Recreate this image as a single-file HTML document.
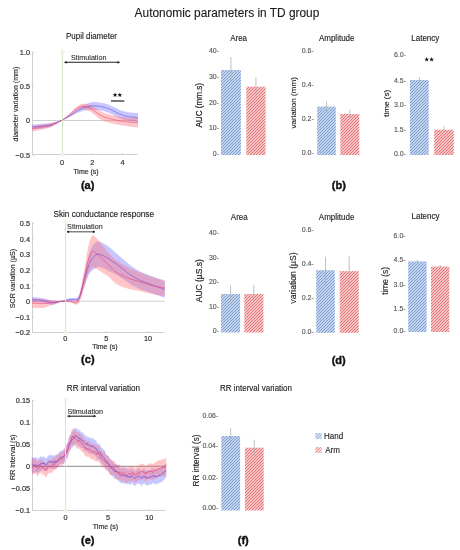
<!DOCTYPE html>
<html><head><meta charset="utf-8"><style>html,body{margin:0;padding:0;background:#fff;}body{width:460px;height:550px;position:relative;overflow:hidden;}</style></head><body>
<svg width="460" height="550" viewBox="0 0 460 550" style="position:absolute;left:0;top:0;will-change:transform;font-family:'Liberation Sans', sans-serif">
<defs>
<pattern id="hb" patternUnits="userSpaceOnUse" width="3" height="3">
<rect width="3" height="3" fill="#c3d4ee"/><rect x="2" y="0" width="1" height="1" fill="#7d9fd0"/><rect x="1" y="1" width="1" height="1" fill="#7d9fd0"/><rect x="0" y="2" width="1" height="1" fill="#7d9fd0"/></pattern>
<pattern id="hr" patternUnits="userSpaceOnUse" width="3" height="3">
<rect width="3" height="3" fill="#f6c4c4"/><rect x="2" y="0" width="1" height="1" fill="#e67476"/><rect x="1" y="1" width="1" height="1" fill="#e67476"/><rect x="0" y="2" width="1" height="1" fill="#e67476"/></pattern>
</defs>
<rect width="460" height="550" fill="#fff"/>
<text x="0" y="0" font-size="11.9" text-anchor="start" fill="#1a1a1a" font-weight="normal" stroke="#1a1a1a" stroke-width="0.12" transform="translate(134.60 17.30) scale(1.0 1.03)">Autonomic parameters in TD group</text>
<text x="0" y="0" font-size="8" text-anchor="middle" fill="#222" font-weight="normal" stroke="#222" stroke-width="0.12" transform="translate(91.50 38.67) scale(1.0 1.08)">Pupil diameter</text>
<line x1="32.5" y1="52" x2="32.5" y2="154.5" stroke="#cfcfcf" stroke-width="1"/>
<line x1="32.5" y1="154.5" x2="137.4" y2="154.5" stroke="#cfcfcf" stroke-width="1"/>
<text x="0" y="0" font-size="7.3" text-anchor="end" fill="#333" font-weight="normal" stroke="#333" stroke-width="0.2" transform="translate(30.00 54.71) scale(1.0 1.08)">1.0</text>
<line x1="32.5" y1="52" x2="34.0" y2="52" stroke="#cfcfcf" stroke-width="1"/>
<text x="0" y="0" font-size="7.3" text-anchor="end" fill="#333" font-weight="normal" stroke="#333" stroke-width="0.2" transform="translate(30.00 89.21) scale(1.0 1.08)">0.5</text>
<line x1="32.5" y1="86.5" x2="34.0" y2="86.5" stroke="#cfcfcf" stroke-width="1"/>
<text x="0" y="0" font-size="7.3" text-anchor="end" fill="#333" font-weight="normal" stroke="#333" stroke-width="0.2" transform="translate(30.00 123.21) scale(1.0 1.08)">0</text>
<line x1="32.5" y1="120.5" x2="34.0" y2="120.5" stroke="#cfcfcf" stroke-width="1"/>
<text x="0" y="0" font-size="7.3" text-anchor="end" fill="#333" font-weight="normal" stroke="#333" stroke-width="0.2" transform="translate(30.00 158.01) scale(1.0 1.08)">−0.5</text>
<line x1="32.5" y1="155.3" x2="34.0" y2="155.3" stroke="#cfcfcf" stroke-width="1"/>
<text x="0" y="0" font-size="7.3" text-anchor="middle" fill="#333" font-weight="normal" stroke="#333" stroke-width="0.2" transform="translate(62.00 165.31) scale(1.0 1.08)">0</text>
<line x1="62" y1="154.5" x2="62" y2="153.0" stroke="#cfcfcf" stroke-width="1"/>
<text x="0" y="0" font-size="7.3" text-anchor="middle" fill="#333" font-weight="normal" stroke="#333" stroke-width="0.2" transform="translate(92.30 165.31) scale(1.0 1.08)">2</text>
<line x1="92.3" y1="154.5" x2="92.3" y2="153.0" stroke="#cfcfcf" stroke-width="1"/>
<text x="0" y="0" font-size="7.3" text-anchor="middle" fill="#333" font-weight="normal" stroke="#333" stroke-width="0.2" transform="translate(122.60 165.31) scale(1.0 1.08)">4</text>
<line x1="122.6" y1="154.5" x2="122.6" y2="153.0" stroke="#cfcfcf" stroke-width="1"/>
<line x1="32.5" y1="120.5" x2="137.4" y2="120.5" stroke="#cfcfcf" stroke-width="1"/>
<polygon points="32.30,124.64 32.56,124.62 32.83,124.60 33.09,124.58 33.36,124.55 33.62,124.53 33.89,124.51 34.15,124.49 34.42,124.47 34.68,124.45 34.95,124.42 35.21,124.40 35.48,124.38 35.74,124.36 36.01,124.34 36.27,124.31 36.54,124.29 36.80,124.27 37.07,124.25 37.33,124.23 37.60,124.20 37.86,124.18 38.13,124.16 38.39,124.14 38.66,124.11 38.92,124.09 39.19,124.07 39.45,124.05 39.72,124.02 39.98,124.00 40.25,123.98 40.51,123.96 40.78,123.94 41.04,123.92 41.31,123.90 41.57,123.88 41.84,123.86 42.10,123.84 42.37,123.82 42.63,123.80 42.90,123.78 43.16,123.77 43.43,123.75 43.69,123.73 43.96,123.71 44.22,123.69 44.49,123.67 44.75,123.65 45.02,123.63 45.28,123.61 45.55,123.59 45.81,123.57 46.08,123.55 46.34,123.52 46.61,123.50 46.87,123.47 47.14,123.45 47.40,123.42 47.66,123.40 47.93,123.37 48.19,123.34 48.46,123.31 48.72,123.27 48.99,123.24 49.25,123.21 49.52,123.17 49.78,123.13 50.05,123.09 50.31,123.05 50.58,123.00 50.84,122.94 51.11,122.89 51.37,122.83 51.64,122.77 51.90,122.72 52.17,122.66 52.43,122.60 52.70,122.54 52.96,122.47 53.23,122.41 53.49,122.35 53.76,122.29 54.02,122.23 54.29,122.17 54.55,122.11 54.82,122.05 55.08,122.00 55.35,121.94 55.61,121.89 55.88,121.83 56.14,121.78 56.41,121.73 56.67,121.67 56.94,121.62 57.20,121.56 57.47,121.50 57.73,121.43 58.00,121.36 58.26,121.29 58.53,121.22 58.79,121.14 59.06,121.05 59.32,120.97 59.59,120.87 59.85,120.78 60.12,120.68 60.38,120.57 60.65,120.46 60.91,120.34 61.18,120.22 61.44,120.09 61.71,119.95 61.97,119.82 62.24,119.68 62.50,119.53 62.76,119.39 63.03,119.24 63.29,119.09 63.56,118.93 63.82,118.78 64.09,118.62 64.35,118.46 64.62,118.30 64.88,118.13 65.15,117.96 65.41,117.79 65.68,117.62 65.94,117.45 66.21,117.27 66.47,117.10 66.74,116.92 67.00,116.74 67.27,116.56 67.53,116.37 67.80,116.19 68.06,116.00 68.33,115.82 68.59,115.63 68.86,115.44 69.12,115.25 69.39,115.06 69.65,114.87 69.92,114.67 70.18,114.48 70.45,114.28 70.71,114.08 70.98,113.88 71.24,113.68 71.51,113.47 71.77,113.26 72.04,113.04 72.30,112.83 72.57,112.62 72.83,112.40 73.10,112.18 73.36,111.97 73.63,111.75 73.89,111.54 74.16,111.32 74.42,111.11 74.69,110.90 74.95,110.69 75.22,110.48 75.48,110.28 75.75,110.08 76.01,109.88 76.28,109.68 76.54,109.49 76.81,109.30 77.07,109.12 77.34,108.94 77.60,108.77 77.86,108.60 78.13,108.43 78.39,108.26 78.66,108.08 78.92,107.91 79.19,107.73 79.45,107.56 79.72,107.39 79.98,107.21 80.25,107.04 80.51,106.87 80.78,106.70 81.04,106.53 81.31,106.37 81.57,106.20 81.84,106.04 82.10,105.88 82.37,105.73 82.63,105.57 82.90,105.42 83.16,105.27 83.43,105.13 83.69,104.99 83.96,104.86 84.22,104.73 84.49,104.60 84.75,104.48 85.02,104.36 85.28,104.25 85.55,104.14 85.81,104.03 86.08,103.92 86.34,103.81 86.61,103.70 86.87,103.59 87.14,103.49 87.40,103.38 87.67,103.28 87.93,103.18 88.20,103.08 88.46,102.98 88.73,102.89 88.99,102.80 89.26,102.72 89.52,102.64 89.79,102.56 90.05,102.49 90.32,102.42 90.58,102.36 90.85,102.30 91.11,102.25 91.38,102.20 91.64,102.17 91.91,102.13 92.17,102.11 92.44,102.09 92.70,102.08 92.96,102.07 93.23,102.07 93.49,102.06 93.76,102.07 94.02,102.07 94.29,102.07 94.55,102.08 94.82,102.09 95.08,102.10 95.35,102.11 95.61,102.12 95.88,102.14 96.14,102.15 96.41,102.17 96.67,102.19 96.94,102.21 97.20,102.23 97.47,102.25 97.73,102.28 98.00,102.30 98.26,102.33 98.53,102.35 98.79,102.38 99.06,102.41 99.32,102.43 99.59,102.46 99.85,102.49 100.12,102.52 100.38,102.55 100.65,102.58 100.91,102.62 101.18,102.65 101.44,102.70 101.71,102.74 101.97,102.79 102.24,102.84 102.50,102.89 102.77,102.95 103.03,103.01 103.30,103.07 103.56,103.14 103.83,103.20 104.09,103.27 104.36,103.34 104.62,103.41 104.89,103.48 105.15,103.56 105.42,103.63 105.68,103.71 105.95,103.79 106.21,103.87 106.48,103.95 106.74,104.03 107.01,104.11 107.27,104.20 107.54,104.28 107.80,104.37 108.06,104.45 108.33,104.54 108.59,104.64 108.86,104.73 109.12,104.84 109.39,104.94 109.65,105.05 109.92,105.16 110.18,105.27 110.45,105.39 110.71,105.51 110.98,105.63 111.24,105.75 111.51,105.88 111.77,106.00 112.04,106.13 112.30,106.26 112.57,106.38 112.83,106.51 113.10,106.64 113.36,106.77 113.63,106.90 113.89,107.03 114.16,107.16 114.42,107.29 114.69,107.42 114.95,107.55 115.22,107.67 115.48,107.80 115.75,107.93 116.01,108.06 116.28,108.20 116.54,108.33 116.81,108.47 117.07,108.61 117.34,108.75 117.60,108.89 117.87,109.03 118.13,109.17 118.40,109.30 118.66,109.43 118.93,109.56 119.19,109.68 119.46,109.79 119.72,109.90 119.99,110.00 120.25,110.10 120.52,110.20 120.78,110.29 121.05,110.39 121.31,110.48 121.58,110.57 121.84,110.66 122.11,110.75 122.37,110.84 122.64,110.92 122.90,111.00 123.16,111.08 123.43,111.16 123.69,111.24 123.96,111.31 124.22,111.38 124.49,111.45 124.75,111.51 125.02,111.57 125.28,111.63 125.55,111.69 125.81,111.74 126.08,111.79 126.34,111.84 126.61,111.89 126.87,111.93 127.14,111.98 127.40,112.02 127.67,112.06 127.93,112.10 128.20,112.14 128.46,112.18 128.73,112.22 128.99,112.25 129.26,112.29 129.52,112.32 129.79,112.35 130.05,112.39 130.32,112.42 130.58,112.45 130.85,112.48 131.11,112.51 131.38,112.54 131.64,112.57 131.91,112.60 132.17,112.63 132.44,112.66 132.70,112.69 132.97,112.72 133.23,112.75 133.50,112.78 133.76,112.80 134.03,112.83 134.29,112.86 134.56,112.89 134.82,112.91 135.09,112.94 135.35,112.96 135.62,112.99 135.88,113.01 136.15,113.03 136.41,113.06 136.68,113.08 136.94,113.10 137.21,113.12 137.47,113.15 137.74,113.17 138.00,113.19 138.00,121.88 137.74,121.86 137.47,121.83 137.21,121.81 136.94,121.78 136.68,121.76 136.41,121.73 136.15,121.71 135.88,121.68 135.62,121.65 135.35,121.62 135.09,121.59 134.82,121.56 134.56,121.53 134.29,121.50 134.03,121.47 133.76,121.44 133.50,121.41 133.23,121.38 132.97,121.34 132.70,121.31 132.44,121.28 132.17,121.24 131.91,121.21 131.64,121.18 131.38,121.14 131.11,121.11 130.85,121.07 130.58,121.04 130.32,121.00 130.05,120.96 129.79,120.93 129.52,120.89 129.26,120.85 128.99,120.81 128.73,120.77 128.46,120.73 128.20,120.69 127.93,120.64 127.67,120.60 127.40,120.55 127.14,120.50 126.87,120.46 126.61,120.41 126.34,120.35 126.08,120.30 125.81,120.24 125.55,120.19 125.28,120.12 125.02,120.06 124.75,119.99 124.49,119.92 124.22,119.85 123.96,119.77 123.69,119.69 123.43,119.61 123.16,119.53 122.90,119.45 122.64,119.36 122.37,119.27 122.11,119.18 121.84,119.08 121.58,118.99 121.31,118.89 121.05,118.79 120.78,118.69 120.52,118.59 120.25,118.49 119.99,118.38 119.72,118.28 119.46,118.16 119.19,118.04 118.93,117.92 118.66,117.79 118.40,117.65 118.13,117.51 117.87,117.37 117.60,117.22 117.34,117.08 117.07,116.93 116.81,116.79 116.54,116.64 116.28,116.50 116.01,116.35 115.75,116.22 115.48,116.08 115.22,115.95 114.95,115.82 114.69,115.69 114.42,115.55 114.16,115.42 113.89,115.28 113.63,115.15 113.36,115.01 113.10,114.87 112.83,114.74 112.57,114.60 112.30,114.47 112.04,114.34 111.77,114.20 111.51,114.07 111.24,113.94 110.98,113.82 110.71,113.69 110.45,113.57 110.18,113.44 109.92,113.32 109.65,113.21 109.39,113.09 109.12,112.98 108.86,112.88 108.59,112.77 108.33,112.67 108.06,112.58 107.80,112.48 107.54,112.40 107.27,112.31 107.01,112.22 106.74,112.13 106.48,112.04 106.21,111.95 105.95,111.87 105.68,111.78 105.42,111.70 105.15,111.62 104.89,111.54 104.62,111.46 104.36,111.38 104.09,111.30 103.83,111.23 103.56,111.15 103.30,111.08 103.03,111.01 102.77,110.95 102.50,110.88 102.24,110.82 101.97,110.76 101.71,110.71 101.44,110.65 101.18,110.60 100.91,110.56 100.65,110.51 100.38,110.47 100.12,110.43 99.85,110.40 99.59,110.36 99.32,110.32 99.06,110.29 98.79,110.25 98.53,110.21 98.26,110.18 98.00,110.14 97.73,110.11 97.47,110.07 97.20,110.04 96.94,110.01 96.67,109.98 96.41,109.95 96.14,109.92 95.88,109.89 95.61,109.86 95.35,109.84 95.08,109.81 94.82,109.79 94.55,109.77 94.29,109.75 94.02,109.73 93.76,109.71 93.49,109.70 93.23,109.69 92.96,109.68 92.70,109.67 92.44,109.66 92.17,109.66 91.91,109.66 91.64,109.67 91.38,109.68 91.11,109.69 90.85,109.71 90.58,109.73 90.32,109.75 90.05,109.78 89.79,109.81 89.52,109.84 89.26,109.87 88.99,109.90 88.73,109.94 88.46,109.97 88.20,110.01 87.93,110.05 87.67,110.09 87.40,110.13 87.14,110.17 86.87,110.21 86.61,110.25 86.34,110.29 86.08,110.34 85.81,110.38 85.55,110.42 85.28,110.45 85.02,110.49 84.75,110.53 84.49,110.58 84.22,110.63 83.96,110.69 83.69,110.75 83.43,110.81 83.16,110.88 82.90,110.95 82.63,111.03 82.37,111.10 82.10,111.19 81.84,111.27 81.57,111.36 81.31,111.45 81.04,111.54 80.78,111.63 80.51,111.73 80.25,111.83 79.98,111.93 79.72,112.04 79.45,112.14 79.19,112.25 78.92,112.36 78.66,112.46 78.39,112.57 78.13,112.69 77.86,112.80 77.60,112.91 77.34,113.02 77.07,113.14 76.81,113.26 76.54,113.39 76.28,113.52 76.01,113.65 75.75,113.78 75.48,113.92 75.22,114.05 74.95,114.19 74.69,114.33 74.42,114.47 74.16,114.62 73.89,114.76 73.63,114.90 73.36,115.05 73.10,115.19 72.83,115.33 72.57,115.48 72.30,115.62 72.04,115.76 71.77,115.90 71.51,116.04 71.24,116.17 70.98,116.31 70.71,116.44 70.45,116.57 70.18,116.70 69.92,116.82 69.65,116.95 69.39,117.07 69.12,117.20 68.86,117.32 68.59,117.45 68.33,117.57 68.06,117.70 67.80,117.82 67.53,117.95 67.27,118.08 67.00,118.20 66.74,118.33 66.47,118.46 66.21,118.58 65.94,118.71 65.68,118.84 65.41,118.96 65.15,119.09 64.88,119.22 64.62,119.35 64.35,119.48 64.09,119.61 63.82,119.74 63.56,119.87 63.29,120.00 63.03,120.13 62.76,120.26 62.50,120.39 62.24,120.52 61.97,120.65 61.71,120.78 61.44,120.92 61.18,121.05 60.91,121.19 60.65,121.33 60.38,121.48 60.12,121.63 59.85,121.78 59.59,121.93 59.32,122.09 59.06,122.25 58.79,122.41 58.53,122.58 58.26,122.74 58.00,122.91 57.73,123.07 57.47,123.24 57.20,123.41 56.94,123.58 56.67,123.74 56.41,123.91 56.14,124.08 55.88,124.24 55.61,124.41 55.35,124.58 55.08,124.75 54.82,124.92 54.55,125.09 54.29,125.26 54.02,125.42 53.76,125.59 53.49,125.75 53.23,125.90 52.96,126.06 52.70,126.21 52.43,126.35 52.17,126.48 51.90,126.61 51.64,126.73 51.37,126.84 51.11,126.95 50.84,127.04 50.58,127.12 50.31,127.20 50.05,127.26 49.78,127.32 49.52,127.37 49.25,127.43 48.99,127.48 48.72,127.53 48.46,127.58 48.19,127.63 47.93,127.68 47.66,127.72 47.40,127.77 47.14,127.81 46.87,127.85 46.61,127.89 46.34,127.93 46.08,127.97 45.81,128.00 45.55,128.04 45.28,128.08 45.02,128.11 44.75,128.15 44.49,128.18 44.22,128.21 43.96,128.24 43.69,128.28 43.43,128.31 43.16,128.34 42.90,128.37 42.63,128.40 42.37,128.43 42.10,128.46 41.84,128.49 41.57,128.52 41.31,128.55 41.04,128.58 40.78,128.61 40.51,128.64 40.25,128.67 39.98,128.70 39.72,128.73 39.45,128.76 39.19,128.79 38.92,128.82 38.66,128.85 38.39,128.88 38.13,128.91 37.86,128.94 37.60,128.97 37.33,129.00 37.07,129.03 36.80,129.05 36.54,129.08 36.27,129.11 36.01,129.13 35.74,129.16 35.48,129.19 35.21,129.21 34.95,129.24 34.68,129.26 34.42,129.29 34.15,129.31 33.89,129.33 33.62,129.36 33.36,129.38 33.09,129.40 32.83,129.43 32.56,129.45 32.30,129.47" fill="#0000ff" fill-opacity="0.22" stroke="none"/>
<polygon points="32.30,125.88 32.56,125.84 32.83,125.80 33.09,125.77 33.36,125.73 33.62,125.69 33.89,125.65 34.15,125.61 34.42,125.57 34.68,125.53 34.95,125.49 35.21,125.46 35.48,125.42 35.74,125.38 36.01,125.34 36.27,125.30 36.54,125.26 36.80,125.23 37.07,125.19 37.33,125.15 37.60,125.11 37.86,125.07 38.13,125.03 38.39,124.99 38.66,124.96 38.92,124.92 39.19,124.88 39.45,124.84 39.72,124.80 39.98,124.76 40.25,124.72 40.51,124.69 40.78,124.65 41.04,124.61 41.31,124.58 41.57,124.54 41.84,124.50 42.10,124.47 42.37,124.43 42.63,124.40 42.90,124.36 43.16,124.32 43.43,124.29 43.69,124.25 43.96,124.22 44.22,124.18 44.49,124.14 44.75,124.10 45.02,124.07 45.28,124.03 45.55,123.99 45.81,123.95 46.08,123.91 46.34,123.87 46.61,123.83 46.87,123.79 47.14,123.75 47.40,123.70 47.66,123.66 47.93,123.61 48.19,123.57 48.46,123.52 48.72,123.47 48.99,123.42 49.25,123.37 49.52,123.32 49.78,123.27 50.05,123.21 50.31,123.16 50.58,123.10 50.84,123.04 51.11,122.98 51.37,122.92 51.64,122.87 51.90,122.81 52.17,122.76 52.43,122.70 52.70,122.65 52.96,122.60 53.23,122.54 53.49,122.49 53.76,122.44 54.02,122.38 54.29,122.33 54.55,122.28 54.82,122.23 55.08,122.17 55.35,122.12 55.61,122.07 55.88,122.01 56.14,121.96 56.41,121.90 56.67,121.84 56.94,121.78 57.20,121.71 57.47,121.65 57.73,121.58 58.00,121.50 58.26,121.43 58.53,121.34 58.79,121.26 59.06,121.17 59.32,121.07 59.59,120.97 59.85,120.86 60.12,120.75 60.38,120.63 60.65,120.51 60.91,120.37 61.18,120.23 61.44,120.09 61.71,119.93 61.97,119.77 62.24,119.61 62.50,119.44 62.76,119.26 63.03,119.08 63.29,118.90 63.56,118.71 63.82,118.51 64.09,118.31 64.35,118.11 64.62,117.90 64.88,117.69 65.15,117.48 65.41,117.26 65.68,117.04 65.94,116.82 66.21,116.60 66.47,116.37 66.74,116.14 67.00,115.91 67.27,115.68 67.53,115.44 67.80,115.21 68.06,114.97 68.33,114.73 68.59,114.49 68.86,114.25 69.12,114.01 69.39,113.77 69.65,113.53 69.92,113.29 70.18,113.05 70.45,112.81 70.71,112.55 70.98,112.29 71.24,112.03 71.51,111.76 71.77,111.48 72.04,111.21 72.30,110.93 72.57,110.64 72.83,110.36 73.10,110.08 73.36,109.80 73.63,109.52 73.89,109.24 74.16,108.96 74.42,108.69 74.69,108.43 74.95,108.16 75.22,107.91 75.48,107.66 75.75,107.42 76.01,107.19 76.28,106.96 76.54,106.75 76.81,106.55 77.07,106.36 77.34,106.18 77.60,106.01 77.86,105.85 78.13,105.69 78.39,105.52 78.66,105.36 78.92,105.19 79.19,105.03 79.45,104.88 79.72,104.73 79.98,104.58 80.25,104.45 80.51,104.32 80.78,104.21 81.04,104.11 81.31,104.02 81.57,103.95 81.84,103.90 82.10,103.86 82.37,103.84 82.63,103.82 82.90,103.81 83.16,103.81 83.43,103.81 83.69,103.81 83.96,103.82 84.22,103.83 84.49,103.85 84.75,103.87 85.02,103.89 85.28,103.92 85.55,103.95 85.81,103.98 86.08,104.01 86.34,104.05 86.61,104.09 86.87,104.13 87.14,104.17 87.40,104.22 87.67,104.26 87.93,104.31 88.20,104.35 88.46,104.41 88.73,104.47 88.99,104.55 89.26,104.64 89.52,104.73 89.79,104.84 90.05,104.95 90.32,105.08 90.58,105.20 90.85,105.34 91.11,105.48 91.38,105.62 91.64,105.77 91.91,105.92 92.17,106.07 92.44,106.23 92.70,106.38 92.96,106.54 93.23,106.69 93.49,106.84 93.76,106.99 94.02,107.13 94.29,107.27 94.55,107.42 94.82,107.57 95.08,107.72 95.35,107.89 95.61,108.06 95.88,108.23 96.14,108.40 96.41,108.58 96.67,108.76 96.94,108.95 97.20,109.13 97.47,109.31 97.73,109.50 98.00,109.68 98.26,109.85 98.53,110.03 98.79,110.20 99.06,110.37 99.32,110.53 99.59,110.69 99.85,110.84 100.12,110.98 100.38,111.11 100.65,111.24 100.91,111.37 101.18,111.50 101.44,111.62 101.71,111.74 101.97,111.86 102.24,111.97 102.50,112.09 102.77,112.20 103.03,112.30 103.30,112.41 103.56,112.51 103.83,112.62 104.09,112.72 104.36,112.81 104.62,112.91 104.89,113.00 105.15,113.10 105.42,113.19 105.68,113.28 105.95,113.36 106.21,113.45 106.48,113.54 106.74,113.62 107.01,113.70 107.27,113.78 107.54,113.86 107.80,113.94 108.06,114.02 108.33,114.10 108.59,114.18 108.86,114.25 109.12,114.33 109.39,114.40 109.65,114.47 109.92,114.54 110.18,114.61 110.45,114.68 110.71,114.74 110.98,114.81 111.24,114.87 111.51,114.94 111.77,115.00 112.04,115.06 112.30,115.13 112.57,115.19 112.83,115.25 113.10,115.31 113.36,115.37 113.63,115.43 113.89,115.49 114.16,115.55 114.42,115.61 114.69,115.66 114.95,115.72 115.22,115.78 115.48,115.84 115.75,115.89 116.01,115.95 116.28,116.01 116.54,116.06 116.81,116.12 117.07,116.18 117.34,116.23 117.60,116.28 117.87,116.34 118.13,116.39 118.40,116.44 118.66,116.49 118.93,116.54 119.19,116.59 119.46,116.63 119.72,116.68 119.99,116.72 120.25,116.77 120.52,116.81 120.78,116.85 121.05,116.89 121.31,116.93 121.58,116.97 121.84,117.01 122.11,117.04 122.37,117.08 122.64,117.12 122.90,117.15 123.16,117.18 123.43,117.22 123.69,117.25 123.96,117.28 124.22,117.31 124.49,117.33 124.75,117.36 125.02,117.38 125.28,117.41 125.55,117.43 125.81,117.45 126.08,117.47 126.34,117.49 126.61,117.51 126.87,117.52 127.14,117.54 127.40,117.55 127.67,117.56 127.93,117.57 128.20,117.59 128.46,117.60 128.73,117.61 128.99,117.62 129.26,117.62 129.52,117.63 129.79,117.64 130.05,117.65 130.32,117.66 130.58,117.66 130.85,117.67 131.11,117.67 131.38,117.68 131.64,117.68 131.91,117.69 132.17,117.69 132.44,117.69 132.70,117.69 132.97,117.70 133.23,117.70 133.50,117.70 133.76,117.70 134.03,117.70 134.29,117.69 134.56,117.69 134.82,117.69 135.09,117.69 135.35,117.68 135.62,117.68 135.88,117.67 136.15,117.67 136.41,117.66 136.68,117.65 136.94,117.64 137.21,117.63 137.47,117.62 137.74,117.61 138.00,117.60 138.00,127.54 137.74,127.51 137.47,127.49 137.21,127.46 136.94,127.44 136.68,127.41 136.41,127.38 136.15,127.35 135.88,127.32 135.62,127.29 135.35,127.26 135.09,127.23 134.82,127.20 134.56,127.17 134.29,127.13 134.03,127.10 133.76,127.07 133.50,127.03 133.23,127.00 132.97,126.96 132.70,126.93 132.44,126.89 132.17,126.86 131.91,126.82 131.64,126.79 131.38,126.75 131.11,126.72 130.85,126.68 130.58,126.64 130.32,126.61 130.05,126.57 129.79,126.53 129.52,126.50 129.26,126.46 128.99,126.42 128.73,126.39 128.46,126.35 128.20,126.31 127.93,126.28 127.67,126.24 127.40,126.20 127.14,126.17 126.87,126.13 126.61,126.09 126.34,126.05 126.08,126.01 125.81,125.97 125.55,125.93 125.28,125.89 125.02,125.85 124.75,125.80 124.49,125.76 124.22,125.72 123.96,125.67 123.69,125.63 123.43,125.59 123.16,125.54 122.90,125.50 122.64,125.45 122.37,125.41 122.11,125.36 121.84,125.32 121.58,125.27 121.31,125.22 121.05,125.18 120.78,125.14 120.52,125.09 120.25,125.05 119.99,125.00 119.72,124.96 119.46,124.91 119.19,124.87 118.93,124.82 118.66,124.77 118.40,124.72 118.13,124.67 117.87,124.62 117.60,124.56 117.34,124.51 117.07,124.46 116.81,124.40 116.54,124.34 116.28,124.29 116.01,124.23 115.75,124.17 115.48,124.12 115.22,124.06 114.95,124.00 114.69,123.94 114.42,123.89 114.16,123.83 113.89,123.77 113.63,123.71 113.36,123.65 113.10,123.59 112.83,123.53 112.57,123.47 112.30,123.41 112.04,123.34 111.77,123.28 111.51,123.22 111.24,123.15 110.98,123.09 110.71,123.02 110.45,122.96 110.18,122.89 109.92,122.82 109.65,122.75 109.39,122.68 109.12,122.61 108.86,122.53 108.59,122.46 108.33,122.38 108.06,122.30 107.80,122.22 107.54,122.14 107.27,122.06 107.01,121.98 106.74,121.90 106.48,121.82 106.21,121.73 105.95,121.64 105.68,121.56 105.42,121.47 105.15,121.38 104.89,121.28 104.62,121.19 104.36,121.09 104.09,121.00 103.83,120.90 103.56,120.79 103.30,120.69 103.03,120.58 102.77,120.48 102.50,120.37 102.24,120.25 101.97,120.14 101.71,120.02 101.44,119.90 101.18,119.78 100.91,119.65 100.65,119.52 100.38,119.39 100.12,119.26 99.85,119.11 99.59,118.95 99.32,118.77 99.06,118.59 98.79,118.39 98.53,118.18 98.26,117.97 98.00,117.75 97.73,117.52 97.47,117.29 97.20,117.05 96.94,116.81 96.67,116.57 96.41,116.33 96.14,116.09 95.88,115.85 95.61,115.61 95.35,115.38 95.08,115.15 94.82,114.93 94.55,114.72 94.29,114.51 94.02,114.31 93.76,114.11 93.49,113.90 93.23,113.70 92.96,113.49 92.70,113.28 92.44,113.08 92.17,112.88 91.91,112.68 91.64,112.48 91.38,112.28 91.11,112.09 90.85,111.90 90.58,111.72 90.32,111.54 90.05,111.37 89.79,111.21 89.52,111.06 89.26,110.91 88.99,110.78 88.73,110.65 88.46,110.54 88.20,110.44 87.93,110.35 87.67,110.25 87.40,110.16 87.14,110.07 86.87,109.98 86.61,109.89 86.34,109.81 86.08,109.72 85.81,109.64 85.55,109.56 85.28,109.48 85.02,109.41 84.75,109.34 84.49,109.27 84.22,109.20 83.96,109.14 83.69,109.09 83.43,109.03 83.16,108.99 82.90,108.94 82.63,108.91 82.37,108.87 82.10,108.85 81.84,108.84 81.57,108.84 81.31,108.86 81.04,108.90 80.78,108.95 80.51,109.02 80.25,109.09 79.98,109.18 79.72,109.27 79.45,109.37 79.19,109.48 78.92,109.59 78.66,109.70 78.39,109.81 78.13,109.93 77.86,110.04 77.60,110.15 77.34,110.26 77.07,110.39 76.81,110.52 76.54,110.67 76.28,110.82 76.01,110.99 75.75,111.16 75.48,111.34 75.22,111.52 74.95,111.71 74.69,111.90 74.42,112.10 74.16,112.30 73.89,112.51 73.63,112.72 73.36,112.93 73.10,113.14 72.83,113.35 72.57,113.56 72.30,113.77 72.04,113.98 71.77,114.18 71.51,114.38 71.24,114.58 70.98,114.77 70.71,114.96 70.45,115.14 70.18,115.32 69.92,115.49 69.65,115.66 69.39,115.83 69.12,116.00 68.86,116.18 68.59,116.35 68.33,116.52 68.06,116.70 67.80,116.87 67.53,117.05 67.27,117.23 67.00,117.40 66.74,117.58 66.47,117.75 66.21,117.93 65.94,118.10 65.68,118.28 65.41,118.45 65.15,118.62 64.88,118.80 64.62,118.97 64.35,119.14 64.09,119.31 63.82,119.48 63.56,119.64 63.29,119.81 63.03,119.97 62.76,120.13 62.50,120.29 62.24,120.45 61.97,120.61 61.71,120.76 61.44,120.92 61.18,121.07 60.91,121.22 60.65,121.38 60.38,121.53 60.12,121.69 59.85,121.85 59.59,122.02 59.32,122.18 59.06,122.34 58.79,122.51 58.53,122.67 58.26,122.84 58.00,123.01 57.73,123.17 57.47,123.34 57.20,123.51 56.94,123.68 56.67,123.84 56.41,124.01 56.14,124.18 55.88,124.34 55.61,124.51 55.35,124.67 55.08,124.84 54.82,125.00 54.55,125.17 54.29,125.33 54.02,125.49 53.76,125.64 53.49,125.80 53.23,125.95 52.96,126.10 52.70,126.24 52.43,126.38 52.17,126.52 51.90,126.65 51.64,126.77 51.37,126.89 51.11,127.01 50.84,127.11 50.58,127.22 50.31,127.31 50.05,127.40 49.78,127.49 49.52,127.58 49.25,127.66 48.99,127.74 48.72,127.82 48.46,127.90 48.19,127.98 47.93,128.06 47.66,128.14 47.40,128.21 47.14,128.29 46.87,128.36 46.61,128.43 46.34,128.50 46.08,128.57 45.81,128.64 45.55,128.71 45.28,128.78 45.02,128.84 44.75,128.91 44.49,128.97 44.22,129.04 43.96,129.10 43.69,129.16 43.43,129.22 43.16,129.28 42.90,129.34 42.63,129.40 42.37,129.46 42.10,129.52 41.84,129.58 41.57,129.64 41.31,129.70 41.04,129.76 40.78,129.82 40.51,129.87 40.25,129.93 39.98,129.99 39.72,130.05 39.45,130.10 39.19,130.16 38.92,130.22 38.66,130.27 38.39,130.32 38.13,130.38 37.86,130.43 37.60,130.48 37.33,130.54 37.07,130.59 36.80,130.64 36.54,130.69 36.27,130.74 36.01,130.79 35.74,130.84 35.48,130.88 35.21,130.93 34.95,130.98 34.68,131.02 34.42,131.07 34.15,131.11 33.89,131.16 33.62,131.20 33.36,131.24 33.09,131.28 32.83,131.32 32.56,131.36 32.30,131.40" fill="#ff6e78" fill-opacity="0.4" stroke="none"/>
<polyline points="32.30,127.06 32.56,127.03 32.83,127.01 33.09,126.99 33.36,126.97 33.62,126.95 33.89,126.92 34.15,126.90 34.42,126.88 34.68,126.85 34.95,126.83 35.21,126.81 35.48,126.78 35.74,126.76 36.01,126.74 36.27,126.71 36.54,126.69 36.80,126.66 37.07,126.64 37.33,126.61 37.60,126.59 37.86,126.56 38.13,126.54 38.39,126.51 38.66,126.48 38.92,126.46 39.19,126.43 39.45,126.41 39.72,126.38 39.98,126.35 40.25,126.33 40.51,126.30 40.78,126.27 41.04,126.25 41.31,126.22 41.57,126.20 41.84,126.17 42.10,126.15 42.37,126.13 42.63,126.10 42.90,126.08 43.16,126.05 43.43,126.03 43.69,126.00 43.96,125.98 44.22,125.95 44.49,125.93 44.75,125.90 45.02,125.87 45.28,125.84 45.55,125.82 45.81,125.79 46.08,125.76 46.34,125.73 46.61,125.69 46.87,125.66 47.14,125.63 47.40,125.59 47.66,125.56 47.93,125.52 48.19,125.48 48.46,125.44 48.72,125.40 48.99,125.36 49.25,125.32 49.52,125.27 49.78,125.23 50.05,125.18 50.31,125.12 50.58,125.06 50.84,124.99 51.11,124.92 51.37,124.84 51.64,124.75 51.90,124.66 52.17,124.57 52.43,124.47 52.70,124.37 52.96,124.27 53.23,124.16 53.49,124.05 53.76,123.94 54.02,123.83 54.29,123.71 54.55,123.60 54.82,123.48 55.08,123.37 55.35,123.26 55.61,123.15 55.88,123.04 56.14,122.93 56.41,122.82 56.67,122.71 56.94,122.60 57.20,122.48 57.47,122.37 57.73,122.25 58.00,122.13 58.26,122.02 58.53,121.90 58.79,121.77 59.06,121.65 59.32,121.53 59.59,121.40 59.85,121.28 60.12,121.15 60.38,121.02 60.65,120.89 60.91,120.76 61.18,120.63 61.44,120.50 61.71,120.37 61.97,120.23 62.24,120.10 62.50,119.96 62.76,119.82 63.03,119.68 63.29,119.54 63.56,119.40 63.82,119.26 64.09,119.11 64.35,118.97 64.62,118.82 64.88,118.68 65.15,118.53 65.41,118.38 65.68,118.23 65.94,118.08 66.21,117.93 66.47,117.78 66.74,117.62 67.00,117.47 67.27,117.32 67.53,117.16 67.80,117.01 68.06,116.85 68.33,116.69 68.59,116.54 68.86,116.38 69.12,116.22 69.39,116.07 69.65,115.91 69.92,115.75 70.18,115.59 70.45,115.43 70.71,115.26 70.98,115.10 71.24,114.93 71.51,114.75 71.77,114.58 72.04,114.40 72.30,114.22 72.57,114.05 72.83,113.87 73.10,113.69 73.36,113.51 73.63,113.33 73.89,113.15 74.16,112.97 74.42,112.79 74.69,112.62 74.95,112.44 75.22,112.27 75.48,112.10 75.75,111.93 76.01,111.76 76.28,111.60 76.54,111.44 76.81,111.28 77.07,111.13 77.34,110.98 77.60,110.84 77.86,110.70 78.13,110.56 78.39,110.42 78.66,110.27 78.92,110.13 79.19,109.99 79.45,109.85 79.72,109.71 79.98,109.57 80.25,109.44 80.51,109.30 80.78,109.17 81.04,109.04 81.31,108.91 81.57,108.78 81.84,108.66 82.10,108.53 82.37,108.41 82.63,108.30 82.90,108.19 83.16,108.08 83.43,107.97 83.69,107.87 83.96,107.77 84.22,107.68 84.49,107.59 84.75,107.51 85.02,107.43 85.28,107.35 85.55,107.28 85.81,107.20 86.08,107.13 86.34,107.05 86.61,106.98 86.87,106.90 87.14,106.83 87.40,106.76 87.67,106.68 87.93,106.61 88.20,106.55 88.46,106.48 88.73,106.41 88.99,106.35 89.26,106.29 89.52,106.24 89.79,106.18 90.05,106.13 90.32,106.09 90.58,106.04 90.85,106.01 91.11,105.97 91.38,105.94 91.64,105.92 91.91,105.90 92.17,105.88 92.44,105.87 92.70,105.87 92.96,105.87 93.23,105.88 93.49,105.88 93.76,105.89 94.02,105.90 94.29,105.91 94.55,105.92 94.82,105.94 95.08,105.95 95.35,105.97 95.61,105.99 95.88,106.01 96.14,106.04 96.41,106.06 96.67,106.08 96.94,106.11 97.20,106.14 97.47,106.16 97.73,106.19 98.00,106.22 98.26,106.25 98.53,106.28 98.79,106.31 99.06,106.35 99.32,106.38 99.59,106.41 99.85,106.44 100.12,106.48 100.38,106.51 100.65,106.55 100.91,106.59 101.18,106.63 101.44,106.68 101.71,106.72 101.97,106.78 102.24,106.83 102.50,106.89 102.77,106.95 103.03,107.01 103.30,107.08 103.56,107.14 103.83,107.21 104.09,107.28 104.36,107.36 104.62,107.43 104.89,107.51 105.15,107.59 105.42,107.67 105.68,107.75 105.95,107.83 106.21,107.91 106.48,108.00 106.74,108.08 107.01,108.17 107.27,108.25 107.54,108.34 107.80,108.42 108.06,108.51 108.33,108.61 108.59,108.70 108.86,108.81 109.12,108.91 109.39,109.02 109.65,109.13 109.92,109.24 110.18,109.36 110.45,109.48 110.71,109.60 110.98,109.72 111.24,109.85 111.51,109.97 111.77,110.10 112.04,110.23 112.30,110.36 112.57,110.49 112.83,110.63 113.10,110.76 113.36,110.89 113.63,111.02 113.89,111.16 114.16,111.29 114.42,111.42 114.69,111.55 114.95,111.68 115.22,111.81 115.48,111.94 115.75,112.07 116.01,112.21 116.28,112.35 116.54,112.49 116.81,112.63 117.07,112.77 117.34,112.92 117.60,113.06 117.87,113.20 118.13,113.34 118.40,113.48 118.66,113.61 118.93,113.74 119.19,113.86 119.46,113.98 119.72,114.09 119.99,114.19 120.25,114.29 120.52,114.39 120.78,114.49 121.05,114.59 121.31,114.69 121.58,114.78 121.84,114.87 122.11,114.96 122.37,115.05 122.64,115.14 122.90,115.22 123.16,115.31 123.43,115.39 123.69,115.46 123.96,115.54 124.22,115.61 124.49,115.68 124.75,115.75 125.02,115.82 125.28,115.88 125.55,115.94 125.81,115.99 126.08,116.05 126.34,116.10 126.61,116.15 126.87,116.20 127.14,116.24 127.40,116.29 127.67,116.33 127.93,116.37 128.20,116.41 128.46,116.45 128.73,116.49 128.99,116.53 129.26,116.57 129.52,116.60 129.79,116.64 130.05,116.67 130.32,116.71 130.58,116.74 130.85,116.78 131.11,116.81 131.38,116.84 131.64,116.87 131.91,116.91 132.17,116.94 132.44,116.97 132.70,117.00 132.97,117.03 133.23,117.06 133.50,117.09 133.76,117.12 134.03,117.15 134.29,117.18 134.56,117.21 134.82,117.24 135.09,117.26 135.35,117.29 135.62,117.32 135.88,117.34 136.15,117.37 136.41,117.40 136.68,117.42 136.94,117.44 137.21,117.47 137.47,117.49 137.74,117.51 138.00,117.53" fill="none" stroke="#7050d8" stroke-width="1.0" stroke-opacity="0.7" stroke-linejoin="round"/>
<polyline points="32.30,128.64 32.56,128.60 32.83,128.56 33.09,128.52 33.36,128.48 33.62,128.44 33.89,128.40 34.15,128.36 34.42,128.32 34.68,128.28 34.95,128.24 35.21,128.19 35.48,128.15 35.74,128.11 36.01,128.06 36.27,128.02 36.54,127.98 36.80,127.93 37.07,127.89 37.33,127.84 37.60,127.80 37.86,127.75 38.13,127.71 38.39,127.66 38.66,127.61 38.92,127.57 39.19,127.52 39.45,127.47 39.72,127.42 39.98,127.38 40.25,127.33 40.51,127.28 40.78,127.23 41.04,127.19 41.31,127.14 41.57,127.09 41.84,127.04 42.10,127.00 42.37,126.95 42.63,126.90 42.90,126.85 43.16,126.80 43.43,126.76 43.69,126.71 43.96,126.66 44.22,126.61 44.49,126.56 44.75,126.51 45.02,126.45 45.28,126.40 45.55,126.35 45.81,126.30 46.08,126.24 46.34,126.19 46.61,126.13 46.87,126.07 47.14,126.02 47.40,125.96 47.66,125.90 47.93,125.84 48.19,125.78 48.46,125.71 48.72,125.65 48.99,125.58 49.25,125.52 49.52,125.45 49.78,125.38 50.05,125.31 50.31,125.23 50.58,125.16 50.84,125.08 51.11,124.99 51.37,124.91 51.64,124.82 51.90,124.73 52.17,124.64 52.43,124.54 52.70,124.45 52.96,124.35 53.23,124.25 53.49,124.14 53.76,124.04 54.02,123.94 54.29,123.83 54.55,123.72 54.82,123.61 55.08,123.51 55.35,123.40 55.61,123.29 55.88,123.18 56.14,123.07 56.41,122.95 56.67,122.84 56.94,122.73 57.20,122.61 57.47,122.49 57.73,122.38 58.00,122.26 58.26,122.13 58.53,122.01 58.79,121.88 59.06,121.76 59.32,121.63 59.59,121.49 59.85,121.36 60.12,121.22 60.38,121.08 60.65,120.94 60.91,120.80 61.18,120.65 61.44,120.50 61.71,120.35 61.97,120.19 62.24,120.03 62.50,119.87 62.76,119.70 63.03,119.53 63.29,119.35 63.56,119.17 63.82,118.99 64.09,118.81 64.35,118.62 64.62,118.44 64.88,118.25 65.15,118.05 65.41,117.86 65.68,117.66 65.94,117.46 66.21,117.26 66.47,117.06 66.74,116.86 67.00,116.66 67.27,116.45 67.53,116.25 67.80,116.04 68.06,115.83 68.33,115.63 68.59,115.42 68.86,115.21 69.12,115.01 69.39,114.80 69.65,114.60 69.92,114.39 70.18,114.19 70.45,113.98 70.71,113.76 70.98,113.53 71.24,113.30 71.51,113.07 71.77,112.83 72.04,112.59 72.30,112.35 72.57,112.10 72.83,111.86 73.10,111.61 73.36,111.36 73.63,111.12 73.89,110.87 74.16,110.63 74.42,110.40 74.69,110.16 74.95,109.94 75.22,109.71 75.48,109.50 75.75,109.29 76.01,109.09 76.28,108.89 76.54,108.71 76.81,108.54 77.07,108.37 77.34,108.22 77.60,108.08 77.86,107.94 78.13,107.81 78.39,107.67 78.66,107.53 78.92,107.39 79.19,107.25 79.45,107.12 79.72,107.00 79.98,106.88 80.25,106.77 80.51,106.67 80.78,106.58 81.04,106.50 81.31,106.44 81.57,106.40 81.84,106.37 82.10,106.36 82.37,106.36 82.63,106.37 82.90,106.38 83.16,106.40 83.43,106.42 83.69,106.45 83.96,106.48 84.22,106.52 84.49,106.56 84.75,106.60 85.02,106.65 85.28,106.70 85.55,106.75 85.81,106.81 86.08,106.87 86.34,106.93 86.61,106.99 86.87,107.06 87.14,107.12 87.40,107.19 87.67,107.26 87.93,107.33 88.20,107.40 88.46,107.47 88.73,107.56 88.99,107.66 89.26,107.78 89.52,107.90 89.79,108.03 90.05,108.16 90.32,108.31 90.58,108.46 90.85,108.62 91.11,108.78 91.38,108.95 91.64,109.12 91.91,109.30 92.17,109.48 92.44,109.65 92.70,109.83 92.96,110.01 93.23,110.19 93.49,110.37 93.76,110.55 94.02,110.72 94.29,110.89 94.55,111.07 94.82,111.25 95.08,111.44 95.35,111.63 95.61,111.84 95.88,112.04 96.14,112.25 96.41,112.46 96.67,112.67 96.94,112.88 97.20,113.09 97.47,113.30 97.73,113.51 98.00,113.71 98.26,113.91 98.53,114.11 98.79,114.30 99.06,114.48 99.32,114.65 99.59,114.82 99.85,114.97 100.12,115.12 100.38,115.25 100.65,115.38 100.91,115.51 101.18,115.64 101.44,115.76 101.71,115.88 101.97,116.00 102.24,116.11 102.50,116.23 102.77,116.34 103.03,116.44 103.30,116.55 103.56,116.65 103.83,116.76 104.09,116.86 104.36,116.95 104.62,117.05 104.89,117.14 105.15,117.24 105.42,117.33 105.68,117.42 105.95,117.50 106.21,117.59 106.48,117.68 106.74,117.76 107.01,117.84 107.27,117.92 107.54,118.00 107.80,118.08 108.06,118.16 108.33,118.24 108.59,118.32 108.86,118.39 109.12,118.47 109.39,118.54 109.65,118.61 109.92,118.68 110.18,118.75 110.45,118.82 110.71,118.88 110.98,118.95 111.24,119.01 111.51,119.08 111.77,119.14 112.04,119.20 112.30,119.27 112.57,119.33 112.83,119.39 113.10,119.45 113.36,119.51 113.63,119.57 113.89,119.63 114.16,119.69 114.42,119.75 114.69,119.80 114.95,119.86 115.22,119.92 115.48,119.98 115.75,120.03 116.01,120.09 116.28,120.15 116.54,120.20 116.81,120.26 117.07,120.32 117.34,120.37 117.60,120.42 117.87,120.48 118.13,120.53 118.40,120.58 118.66,120.63 118.93,120.68 119.19,120.73 119.46,120.77 119.72,120.82 119.99,120.86 120.25,120.91 120.52,120.95 120.78,120.99 121.05,121.03 121.31,121.08 121.58,121.12 121.84,121.16 122.11,121.20 122.37,121.24 122.64,121.28 122.90,121.32 123.16,121.36 123.43,121.40 123.69,121.44 123.96,121.48 124.22,121.51 124.49,121.55 124.75,121.58 125.02,121.62 125.28,121.65 125.55,121.68 125.81,121.71 126.08,121.74 126.34,121.77 126.61,121.80 126.87,121.83 127.14,121.85 127.40,121.88 127.67,121.90 127.93,121.93 128.20,121.95 128.46,121.97 128.73,122.00 128.99,122.02 129.26,122.04 129.52,122.06 129.79,122.09 130.05,122.11 130.32,122.13 130.58,122.15 130.85,122.17 131.11,122.19 131.38,122.22 131.64,122.24 131.91,122.26 132.17,122.27 132.44,122.29 132.70,122.31 132.97,122.33 133.23,122.35 133.50,122.37 133.76,122.38 134.03,122.40 134.29,122.41 134.56,122.43 134.82,122.44 135.09,122.46 135.35,122.47 135.62,122.48 135.88,122.50 136.15,122.51 136.41,122.52 136.68,122.53 136.94,122.54 137.21,122.55 137.47,122.56 137.74,122.56 138.00,122.57" fill="none" stroke="#f04070" stroke-width="1.0" stroke-opacity="0.65" stroke-linejoin="round"/>
<line x1="62.5" y1="52" x2="62.5" y2="154.5" stroke="#d6e8c6" stroke-width="1"/>
<circle cx="62.5" cy="52" r="1.6" fill="white" stroke="#d6e8c6" stroke-width="0.8"/>
<circle cx="62.5" cy="154.5" r="1.6" fill="white" stroke="#d6e8c6" stroke-width="0.8"/>
<text x="0" y="0" font-size="7.1" text-anchor="middle" fill="#222" font-weight="normal" stroke="#222" stroke-width="0.12" transform="translate(18.04 104.10) rotate(-90) scale(1.0 1.0)">diameter variation (mm)</text>
<line x1="65.3" y1="62.3" x2="118.8" y2="62.3" stroke="#222" stroke-width="1.1"/>
<polygon points="63.8,62.3 66.6,60.9 66.6,63.699999999999996" fill="#222"/>
<polygon points="120.3,62.3 117.5,60.9 117.5,63.699999999999996" fill="#222"/>
<text x="88.70" y="59.78" font-size="7.2" text-anchor="middle" fill="#333" font-weight="normal" stroke="#333" stroke-width="0.12">Stimulation</text>
<polygon points="115.05,92.50 115.67,94.15 117.43,94.23 116.05,95.32 116.52,97.02 115.05,96.05 113.58,97.02 114.05,95.32 112.67,94.23 114.43,94.15" fill="#111"/>
<polygon points="119.80,92.50 120.42,94.15 122.18,94.23 120.80,95.32 121.27,97.02 119.80,96.05 118.33,97.02 118.80,95.32 117.42,94.23 119.18,94.15" fill="#111"/>
<rect x="111" y="100" width="13.3" height="2" fill="#7a7a7a"/>
<text x="0" y="0" font-size="7" text-anchor="middle" fill="#333" font-weight="normal" stroke="#333" stroke-width="0.2" transform="translate(86.00 173.70) scale(1.0 1.08)">Time (s)</text>
<text x="87.65" y="189.03" font-size="11" text-anchor="middle" fill="#111" font-weight="bold" stroke="#111" stroke-width="0.4">(a)</text>
<text x="0" y="0" font-size="7" text-anchor="end" fill="#555" font-weight="normal" stroke="#555" stroke-width="0.12" transform="translate(219.00 52.60) scale(1.0 1.08)">40-</text>
<text x="0" y="0" font-size="7" text-anchor="end" fill="#555" font-weight="normal" stroke="#555" stroke-width="0.12" transform="translate(219.00 79.20) scale(1.0 1.08)">30-</text>
<text x="0" y="0" font-size="7" text-anchor="end" fill="#555" font-weight="normal" stroke="#555" stroke-width="0.12" transform="translate(219.00 104.60) scale(1.0 1.08)">20-</text>
<text x="0" y="0" font-size="7" text-anchor="end" fill="#555" font-weight="normal" stroke="#555" stroke-width="0.12" transform="translate(219.00 130.10) scale(1.0 1.08)">10-</text>
<text x="0" y="0" font-size="7" text-anchor="end" fill="#555" font-weight="normal" stroke="#555" stroke-width="0.12" transform="translate(219.00 155.60) scale(1.0 1.08)">0-</text>
<rect x="221" y="70" width="19.900000000000006" height="85" fill="url(#hb)"/>
<rect x="246.3" y="86.7" width="19.30000000000001" height="68.3" fill="url(#hr)"/>
<line x1="230.95" y1="57" x2="230.95" y2="82" stroke="#b0b0b0" stroke-width="1" stroke-opacity="0.8"/>
<line x1="255.95000000000002" y1="77.3" x2="255.95000000000002" y2="95.5" stroke="#b0b0b0" stroke-width="1" stroke-opacity="0.8"/>
<text x="0" y="0" font-size="8" text-anchor="middle" fill="#222" font-weight="normal" stroke="#222" stroke-width="0.12" transform="translate(238.60 41.27) scale(1.0 1.08)">Area</text>
<text x="0" y="0" font-size="8.7" text-anchor="middle" fill="#222" font-weight="normal" stroke="#222" stroke-width="0.22" transform="translate(202.49 105.30) rotate(-90) scale(0.935 1.0)">AUC (mm.s)</text>
<text x="0" y="0" font-size="7" text-anchor="end" fill="#555" font-weight="normal" stroke="#555" stroke-width="0.12" transform="translate(313.80 53.10) scale(1.0 1.08)">0.6-</text>
<text x="0" y="0" font-size="7" text-anchor="end" fill="#555" font-weight="normal" stroke="#555" stroke-width="0.12" transform="translate(313.80 87.20) scale(1.0 1.08)">0.4-</text>
<text x="0" y="0" font-size="7" text-anchor="end" fill="#555" font-weight="normal" stroke="#555" stroke-width="0.12" transform="translate(313.80 121.40) scale(1.0 1.08)">0.2-</text>
<text x="0" y="0" font-size="7" text-anchor="end" fill="#555" font-weight="normal" stroke="#555" stroke-width="0.12" transform="translate(313.80 155.40) scale(1.0 1.08)">0.0-</text>
<rect x="317.2" y="106.6" width="18.600000000000023" height="48.400000000000006" fill="url(#hb)"/>
<rect x="340.3" y="114" width="19.0" height="41" fill="url(#hr)"/>
<line x1="326.5" y1="101.7" x2="326.5" y2="111.5" stroke="#b0b0b0" stroke-width="1" stroke-opacity="0.8"/>
<line x1="349.8" y1="109.6" x2="349.8" y2="119" stroke="#b0b0b0" stroke-width="1" stroke-opacity="0.8"/>
<text x="0" y="0" font-size="8" text-anchor="middle" fill="#222" font-weight="normal" stroke="#222" stroke-width="0.12" transform="translate(336.70 41.17) scale(1.0 1.08)">Amplitude</text>
<text x="0" y="0" font-size="8.05" text-anchor="middle" fill="#222" font-weight="normal" stroke="#222" stroke-width="0.12" transform="translate(295.67 102.90) rotate(-90) scale(1.0 1.0)">variation (mm)</text>
<text x="0" y="0" font-size="7" text-anchor="end" fill="#555" font-weight="normal" stroke="#555" stroke-width="0.12" transform="translate(406.00 57.10) scale(1.0 1.08)">6.0-</text>
<text x="0" y="0" font-size="7" text-anchor="end" fill="#555" font-weight="normal" stroke="#555" stroke-width="0.12" transform="translate(406.00 82.90) scale(1.0 1.08)">4.5-</text>
<text x="0" y="0" font-size="7" text-anchor="end" fill="#555" font-weight="normal" stroke="#555" stroke-width="0.12" transform="translate(406.00 107.40) scale(1.0 1.08)">3.0-</text>
<text x="0" y="0" font-size="7" text-anchor="end" fill="#555" font-weight="normal" stroke="#555" stroke-width="0.12" transform="translate(406.00 132.10) scale(1.0 1.08)">1.5-</text>
<text x="0" y="0" font-size="7" text-anchor="end" fill="#555" font-weight="normal" stroke="#555" stroke-width="0.12" transform="translate(406.00 156.40) scale(1.0 1.08)">0.0-</text>
<rect x="410" y="80" width="18.69999999999999" height="75" fill="url(#hb)"/>
<rect x="434.2" y="129.7" width="19.600000000000023" height="25.30000000000001" fill="url(#hr)"/>
<line x1="419.35" y1="77" x2="419.35" y2="84" stroke="#b0b0b0" stroke-width="1" stroke-opacity="0.8"/>
<line x1="444.0" y1="126" x2="444.0" y2="131" stroke="#b0b0b0" stroke-width="1" stroke-opacity="0.8"/>
<text x="0" y="0" font-size="8" text-anchor="middle" fill="#222" font-weight="normal" stroke="#222" stroke-width="0.12" transform="translate(425.30 41.17) scale(1.0 1.08)">Latency</text>
<text x="0" y="0" font-size="8.1" text-anchor="middle" fill="#222" font-weight="normal" stroke="#222" stroke-width="0.12" transform="translate(388.89 103.25) rotate(-90) scale(1.0 1.0)">time (s)</text>
<polygon points="426.70,57.00 427.32,58.65 429.08,58.73 427.70,59.82 428.17,61.52 426.70,60.55 425.23,61.52 425.70,59.82 424.32,58.73 426.08,58.65" fill="#111"/>
<polygon points="431.60,57.00 432.22,58.65 433.98,58.73 432.60,59.82 433.07,61.52 431.60,60.55 430.13,61.52 430.60,59.82 429.22,58.73 430.98,58.65" fill="#111"/>
<text x="338.85" y="189.08" font-size="11" text-anchor="middle" fill="#111" font-weight="bold" stroke="#111" stroke-width="0.4">(b)</text>
<text x="0" y="0" font-size="8.2" text-anchor="middle" fill="#222" font-weight="normal" stroke="#222" stroke-width="0.12" transform="translate(103.70 216.65) scale(1.0 1.08)">Skin conductance response</text>
<line x1="32.5" y1="222.4" x2="32.5" y2="332.5" stroke="#cfcfcf" stroke-width="1"/>
<line x1="32.5" y1="332.5" x2="164.4" y2="332.5" stroke="#cfcfcf" stroke-width="1"/>
<text x="0" y="0" font-size="7.3" text-anchor="end" fill="#333" font-weight="normal" stroke="#333" stroke-width="0.2" transform="translate(30.00 226.01) scale(1.0 1.08)">0.5</text>
<line x1="32.5" y1="223.3" x2="34.0" y2="223.3" stroke="#cfcfcf" stroke-width="1"/>
<text x="0" y="0" font-size="7.3" text-anchor="end" fill="#333" font-weight="normal" stroke="#333" stroke-width="0.2" transform="translate(30.00 241.51) scale(1.0 1.08)">0.4</text>
<line x1="32.5" y1="238.8" x2="34.0" y2="238.8" stroke="#cfcfcf" stroke-width="1"/>
<text x="0" y="0" font-size="7.3" text-anchor="end" fill="#333" font-weight="normal" stroke="#333" stroke-width="0.2" transform="translate(30.00 257.21) scale(1.0 1.08)">0.3</text>
<line x1="32.5" y1="254.5" x2="34.0" y2="254.5" stroke="#cfcfcf" stroke-width="1"/>
<text x="0" y="0" font-size="7.3" text-anchor="end" fill="#333" font-weight="normal" stroke="#333" stroke-width="0.2" transform="translate(30.00 272.81) scale(1.0 1.08)">0.2</text>
<line x1="32.5" y1="270.1" x2="34.0" y2="270.1" stroke="#cfcfcf" stroke-width="1"/>
<text x="0" y="0" font-size="7.3" text-anchor="end" fill="#333" font-weight="normal" stroke="#333" stroke-width="0.2" transform="translate(30.00 288.51) scale(1.0 1.08)">0.1</text>
<line x1="32.5" y1="285.8" x2="34.0" y2="285.8" stroke="#cfcfcf" stroke-width="1"/>
<text x="0" y="0" font-size="7.3" text-anchor="end" fill="#333" font-weight="normal" stroke="#333" stroke-width="0.2" transform="translate(30.00 304.01) scale(1.0 1.08)">0</text>
<line x1="32.5" y1="301.3" x2="34.0" y2="301.3" stroke="#cfcfcf" stroke-width="1"/>
<text x="0" y="0" font-size="7.3" text-anchor="end" fill="#333" font-weight="normal" stroke="#333" stroke-width="0.2" transform="translate(30.00 319.71) scale(1.0 1.08)">−0.1</text>
<line x1="32.5" y1="317" x2="34.0" y2="317" stroke="#cfcfcf" stroke-width="1"/>
<text x="0" y="0" font-size="7.3" text-anchor="end" fill="#333" font-weight="normal" stroke="#333" stroke-width="0.2" transform="translate(30.00 335.31) scale(1.0 1.08)">−0.2</text>
<line x1="32.5" y1="332.6" x2="34.0" y2="332.6" stroke="#cfcfcf" stroke-width="1"/>
<text x="0" y="0" font-size="7.3" text-anchor="middle" fill="#333" font-weight="normal" stroke="#333" stroke-width="0.2" transform="translate(65.20 341.31) scale(1.0 1.08)">0</text>
<line x1="65.2" y1="332.5" x2="65.2" y2="331.0" stroke="#cfcfcf" stroke-width="1"/>
<text x="0" y="0" font-size="7.3" text-anchor="middle" fill="#333" font-weight="normal" stroke="#333" stroke-width="0.2" transform="translate(106.40 341.31) scale(1.0 1.08)">5</text>
<line x1="106.4" y1="332.5" x2="106.4" y2="331.0" stroke="#cfcfcf" stroke-width="1"/>
<text x="0" y="0" font-size="7.3" text-anchor="middle" fill="#333" font-weight="normal" stroke="#333" stroke-width="0.2" transform="translate(148.00 341.31) scale(1.0 1.08)">10</text>
<line x1="148" y1="332.5" x2="148" y2="331.0" stroke="#cfcfcf" stroke-width="1"/>
<line x1="32.5" y1="301.2" x2="164.4" y2="301.2" stroke="#cfcfcf" stroke-width="1"/>
<polygon points="32.28,297.16 32.61,297.17 32.94,297.18 33.28,297.19 33.61,297.20 33.94,297.22 34.27,297.24 34.60,297.26 34.94,297.28 35.27,297.31 35.60,297.33 35.93,297.36 36.26,297.39 36.60,297.42 36.93,297.45 37.26,297.48 37.59,297.52 37.92,297.55 38.26,297.59 38.59,297.63 38.92,297.67 39.25,297.71 39.58,297.75 39.92,297.79 40.25,297.83 40.58,297.87 40.91,297.92 41.24,297.96 41.58,298.00 41.91,298.05 42.24,298.09 42.57,298.14 42.90,298.20 43.24,298.26 43.57,298.34 43.90,298.41 44.23,298.50 44.57,298.59 44.90,298.68 45.23,298.77 45.56,298.87 45.89,298.98 46.23,299.08 46.56,299.19 46.89,299.30 47.22,299.40 47.55,299.51 47.89,299.62 48.22,299.72 48.55,299.83 48.88,299.93 49.21,300.02 49.55,300.12 49.88,300.21 50.21,300.29 50.54,300.37 50.87,300.45 51.21,300.51 51.54,300.57 51.87,300.62 52.20,300.67 52.53,300.70 52.87,300.73 53.20,300.74 53.53,300.76 53.86,300.78 54.19,300.80 54.53,300.83 54.86,300.85 55.19,300.87 55.52,300.89 55.85,300.91 56.19,300.93 56.52,300.95 56.85,300.97 57.18,300.98 57.51,300.99 57.85,301.00 58.18,301.01 58.51,301.01 58.84,301.01 59.17,301.01 59.51,301.00 59.84,300.98 60.17,300.96 60.50,300.94 60.83,300.91 61.17,300.87 61.50,300.83 61.83,300.78 62.16,300.72 62.49,300.65 62.83,300.57 63.16,300.49 63.49,300.39 63.82,300.28 64.15,300.17 64.49,300.05 64.82,299.93 65.15,299.80 65.48,299.67 65.82,299.54 66.15,299.41 66.48,299.28 66.81,299.15 67.14,299.01 67.48,298.89 67.81,298.76 68.14,298.64 68.47,298.53 68.80,298.42 69.14,298.32 69.47,298.23 69.80,298.15 70.13,298.08 70.46,298.02 70.80,297.97 71.13,297.94 71.46,297.92 71.79,297.90 72.12,297.89 72.46,297.88 72.79,297.88 73.12,297.87 73.45,297.87 73.78,297.87 74.12,297.87 74.45,297.87 74.78,297.87 75.11,297.87 75.44,297.86 75.78,297.85 76.11,297.84 76.44,297.82 76.77,297.80 77.10,297.76 77.44,297.59 77.77,297.28 78.10,296.83 78.43,296.27 78.76,295.61 79.10,294.86 79.43,294.05 79.76,293.18 80.09,292.28 80.42,291.34 80.76,290.16 81.09,288.76 81.42,287.20 81.75,285.54 82.08,283.84 82.42,282.17 82.75,280.59 83.08,279.11 83.41,277.62 83.74,276.14 84.08,274.67 84.41,273.22 84.74,271.79 85.07,270.38 85.40,268.99 85.74,267.64 86.07,266.33 86.40,265.03 86.73,263.68 87.06,262.31 87.40,260.93 87.73,259.55 88.06,258.19 88.39,256.86 88.73,255.57 89.06,254.34 89.39,253.19 89.72,252.11 90.05,251.14 90.39,250.27 90.72,249.44 91.05,248.65 91.38,247.90 91.71,247.19 92.05,246.53 92.38,245.91 92.71,245.34 93.04,244.83 93.37,244.37 93.71,243.97 94.04,243.63 94.37,243.36 94.70,243.13 95.03,242.89 95.37,242.66 95.70,242.45 96.03,242.24 96.36,242.05 96.69,241.88 97.03,241.73 97.36,241.61 97.69,241.52 98.02,241.46 98.35,241.43 98.69,241.45 99.02,241.49 99.35,241.55 99.68,241.64 100.01,241.74 100.35,241.86 100.68,241.99 101.01,242.13 101.34,242.28 101.67,242.44 102.01,242.59 102.34,242.74 102.67,242.89 103.00,243.05 103.33,243.22 103.67,243.40 104.00,243.59 104.33,243.80 104.66,244.01 104.99,244.23 105.33,244.46 105.66,244.68 105.99,244.91 106.32,245.14 106.65,245.37 106.99,245.59 107.32,245.82 107.65,246.05 107.98,246.29 108.31,246.52 108.65,246.76 108.98,247.00 109.31,247.25 109.64,247.50 109.98,247.76 110.31,248.03 110.64,248.31 110.97,248.59 111.30,248.88 111.64,249.17 111.97,249.46 112.30,249.76 112.63,250.06 112.96,250.36 113.30,250.66 113.63,250.96 113.96,251.25 114.29,251.54 114.62,251.83 114.96,252.11 115.29,252.39 115.62,252.67 115.95,252.95 116.28,253.23 116.62,253.52 116.95,253.80 117.28,254.09 117.61,254.38 117.94,254.66 118.28,254.95 118.61,255.24 118.94,255.53 119.27,255.82 119.60,256.11 119.94,256.40 120.27,256.69 120.60,256.98 120.93,257.27 121.26,257.56 121.60,257.85 121.93,258.14 122.26,258.42 122.59,258.71 122.92,258.99 123.26,259.27 123.59,259.55 123.92,259.83 124.25,260.12 124.58,260.41 124.92,260.69 125.25,260.98 125.58,261.27 125.91,261.56 126.24,261.85 126.58,262.13 126.91,262.42 127.24,262.71 127.57,262.99 127.90,263.27 128.24,263.55 128.57,263.83 128.90,264.10 129.23,264.37 129.56,264.64 129.90,264.91 130.23,265.17 130.56,265.42 130.89,265.67 131.22,265.91 131.56,266.15 131.89,266.39 132.22,266.62 132.55,266.85 132.89,267.08 133.22,267.31 133.55,267.54 133.88,267.76 134.21,267.98 134.55,268.20 134.88,268.42 135.21,268.64 135.54,268.85 135.87,269.06 136.21,269.27 136.54,269.47 136.87,269.67 137.20,269.87 137.53,270.07 137.87,270.26 138.20,270.45 138.53,270.63 138.86,270.81 139.19,270.99 139.53,271.16 139.86,271.33 140.19,271.50 140.52,271.66 140.85,271.82 141.19,271.97 141.52,272.12 141.85,272.27 142.18,272.41 142.51,272.55 142.85,272.69 143.18,272.83 143.51,272.96 143.84,273.09 144.17,273.22 144.51,273.35 144.84,273.48 145.17,273.61 145.50,273.73 145.83,273.86 146.17,273.99 146.50,274.11 146.83,274.24 147.16,274.36 147.49,274.49 147.83,274.62 148.16,274.75 148.49,274.88 148.82,275.01 149.15,275.14 149.49,275.27 149.82,275.40 150.15,275.53 150.48,275.66 150.81,275.79 151.15,275.92 151.48,276.05 151.81,276.17 152.14,276.30 152.47,276.43 152.81,276.56 153.14,276.69 153.47,276.82 153.80,276.95 154.14,277.08 154.47,277.21 154.80,277.34 155.13,277.46 155.46,277.59 155.80,277.72 156.13,277.85 156.46,277.98 156.79,278.11 157.12,278.23 157.46,278.36 157.79,278.49 158.12,278.62 158.45,278.74 158.78,278.87 159.12,279.00 159.45,279.13 159.78,279.25 160.11,279.38 160.44,279.51 160.78,279.63 161.11,279.76 161.44,279.89 161.77,280.01 162.10,280.14 162.44,280.26 162.77,280.39 163.10,280.51 163.43,280.64 163.76,280.77 164.10,280.89 164.43,281.02 164.76,281.14 164.76,297.93 164.43,297.81 164.10,297.69 163.76,297.56 163.43,297.44 163.10,297.31 162.77,297.19 162.44,297.07 162.10,296.94 161.77,296.82 161.44,296.70 161.11,296.57 160.78,296.45 160.44,296.33 160.11,296.20 159.78,296.08 159.45,295.96 159.12,295.84 158.78,295.71 158.45,295.59 158.12,295.47 157.79,295.35 157.46,295.23 157.12,295.11 156.79,294.98 156.46,294.86 156.13,294.74 155.80,294.62 155.46,294.50 155.13,294.38 154.80,294.26 154.47,294.14 154.14,294.02 153.80,293.89 153.47,293.77 153.14,293.65 152.81,293.53 152.47,293.41 152.14,293.29 151.81,293.17 151.48,293.05 151.15,292.93 150.81,292.81 150.48,292.69 150.15,292.57 149.82,292.45 149.49,292.33 149.15,292.21 148.82,292.09 148.49,291.97 148.16,291.86 147.83,291.74 147.49,291.62 147.16,291.51 146.83,291.40 146.50,291.29 146.17,291.18 145.83,291.07 145.50,290.96 145.17,290.86 144.84,290.75 144.51,290.64 144.17,290.54 143.84,290.43 143.51,290.32 143.18,290.22 142.85,290.11 142.51,290.00 142.18,289.88 141.85,289.77 141.52,289.65 141.19,289.53 140.85,289.41 140.52,289.29 140.19,289.16 139.86,289.03 139.53,288.89 139.19,288.75 138.86,288.61 138.53,288.47 138.20,288.32 137.87,288.17 137.53,288.01 137.20,287.85 136.87,287.69 136.54,287.53 136.21,287.37 135.87,287.20 135.54,287.03 135.21,286.85 134.88,286.68 134.55,286.50 134.21,286.32 133.88,286.14 133.55,285.96 133.22,285.77 132.89,285.59 132.55,285.40 132.22,285.21 131.89,285.02 131.56,284.82 131.22,284.63 130.89,284.43 130.56,284.22 130.23,284.01 129.90,283.79 129.56,283.58 129.23,283.35 128.90,283.13 128.57,282.90 128.24,282.67 127.90,282.44 127.57,282.21 127.24,281.98 126.91,281.74 126.58,281.51 126.24,281.27 125.91,281.04 125.58,280.81 125.25,280.57 124.92,280.34 124.58,280.11 124.25,279.88 123.92,279.66 123.59,279.44 123.26,279.22 122.92,279.00 122.59,278.78 122.26,278.56 121.93,278.34 121.60,278.12 121.26,277.89 120.93,277.67 120.60,277.45 120.27,277.23 119.94,277.01 119.60,276.79 119.27,276.58 118.94,276.36 118.61,276.15 118.28,275.93 117.94,275.72 117.61,275.51 117.28,275.30 116.95,275.10 116.62,274.89 116.28,274.69 115.95,274.49 115.62,274.30 115.29,274.11 114.96,273.92 114.62,273.74 114.29,273.56 113.96,273.39 113.63,273.23 113.30,273.07 112.96,272.91 112.63,272.76 112.30,272.61 111.97,272.46 111.64,272.31 111.30,272.16 110.97,272.01 110.64,271.85 110.31,271.69 109.98,271.53 109.64,271.36 109.31,271.19 108.98,271.01 108.65,270.83 108.31,270.66 107.98,270.48 107.65,270.30 107.32,270.13 106.99,269.95 106.65,269.78 106.32,269.60 105.99,269.41 105.66,269.23 105.33,269.04 104.99,268.86 104.66,268.68 104.33,268.50 104.00,268.34 103.67,268.18 103.33,268.03 103.00,267.89 102.67,267.77 102.34,267.65 102.01,267.54 101.67,267.42 101.34,267.30 101.01,267.18 100.68,267.08 100.35,266.98 100.01,266.89 99.68,266.82 99.35,266.77 99.02,266.74 98.69,266.73 98.35,266.74 98.02,266.79 97.69,266.88 97.36,267.00 97.03,267.14 96.69,267.31 96.36,267.50 96.03,267.70 95.70,267.92 95.37,268.15 95.03,268.39 94.70,268.63 94.37,268.86 94.04,269.10 93.71,269.35 93.37,269.60 93.04,269.86 92.71,270.13 92.38,270.41 92.05,270.69 91.71,270.99 91.38,271.30 91.05,271.62 90.72,271.95 90.39,272.30 90.05,272.67 89.72,273.14 89.39,273.69 89.06,274.32 88.73,275.02 88.39,275.77 88.06,276.58 87.73,277.42 87.40,278.29 87.06,279.18 86.73,280.07 86.40,280.96 86.07,281.84 85.74,282.72 85.40,283.62 85.07,284.52 84.74,285.43 84.41,286.35 84.08,287.27 83.74,288.20 83.41,289.13 83.08,290.06 82.75,291.00 82.42,292.02 82.08,293.14 81.75,294.30 81.42,295.43 81.09,296.48 80.76,297.39 80.42,298.08 80.09,298.57 79.76,299.04 79.43,299.51 79.10,299.96 78.76,300.37 78.43,300.75 78.10,301.06 77.77,301.30 77.44,301.46 77.10,301.52 76.77,301.49 76.44,301.46 76.11,301.43 75.78,301.40 75.44,301.37 75.11,301.35 74.78,301.32 74.45,301.29 74.12,301.26 73.78,301.24 73.45,301.21 73.12,301.19 72.79,301.16 72.46,301.14 72.12,301.11 71.79,301.09 71.46,301.06 71.13,301.04 70.80,301.02 70.46,301.00 70.13,300.99 69.80,300.98 69.47,300.97 69.14,300.97 68.80,300.97 68.47,300.98 68.14,300.99 67.81,301.00 67.48,301.02 67.14,301.04 66.81,301.06 66.48,301.08 66.15,301.11 65.82,301.14 65.48,301.18 65.15,301.21 64.82,301.25 64.49,301.29 64.15,301.34 63.82,301.38 63.49,301.43 63.16,301.49 62.83,301.54 62.49,301.60 62.16,301.65 61.83,301.72 61.50,301.79 61.17,301.88 60.83,301.99 60.50,302.10 60.17,302.22 59.84,302.35 59.51,302.49 59.17,302.63 58.84,302.77 58.51,302.92 58.18,303.07 57.85,303.23 57.51,303.38 57.18,303.53 56.85,303.67 56.52,303.82 56.19,303.95 55.85,304.09 55.52,304.21 55.19,304.32 54.86,304.43 54.53,304.52 54.19,304.60 53.86,304.67 53.53,304.72 53.20,304.76 52.87,304.78 52.53,304.79 52.20,304.79 51.87,304.77 51.54,304.75 51.21,304.72 50.87,304.67 50.54,304.63 50.21,304.57 49.88,304.51 49.55,304.44 49.21,304.37 48.88,304.29 48.55,304.21 48.22,304.12 47.89,304.04 47.55,303.95 47.22,303.86 46.89,303.77 46.56,303.67 46.23,303.58 45.89,303.49 45.56,303.40 45.23,303.32 44.90,303.24 44.57,303.16 44.23,303.08 43.90,303.01 43.57,302.95 43.24,302.89 42.90,302.84 42.57,302.79 42.24,302.76 41.91,302.73 41.58,302.70 41.24,302.66 40.91,302.63 40.58,302.60 40.25,302.57 39.92,302.54 39.58,302.51 39.25,302.49 38.92,302.46 38.59,302.43 38.26,302.41 37.92,302.38 37.59,302.35 37.26,302.33 36.93,302.31 36.60,302.29 36.26,302.27 35.93,302.25 35.60,302.23 35.27,302.21 34.94,302.20 34.60,302.18 34.27,302.17 33.94,302.16 33.61,302.15 33.28,302.14 32.94,302.14 32.61,302.13 32.28,302.13" fill="#0000ff" fill-opacity="0.22" stroke="none"/>
<polygon points="32.28,298.40 32.61,298.44 32.94,298.48 33.28,298.51 33.61,298.54 33.94,298.58 34.27,298.61 34.60,298.64 34.94,298.66 35.27,298.69 35.60,298.72 35.93,298.74 36.26,298.76 36.60,298.78 36.93,298.80 37.26,298.82 37.59,298.84 37.92,298.86 38.26,298.88 38.59,298.89 38.92,298.91 39.25,298.92 39.58,298.93 39.92,298.95 40.25,298.96 40.58,298.97 40.91,298.98 41.24,298.99 41.58,299.00 41.91,299.01 42.24,299.02 42.57,299.04 42.90,299.05 43.24,299.07 43.57,299.09 43.90,299.12 44.23,299.15 44.57,299.18 44.90,299.22 45.23,299.25 45.56,299.29 45.89,299.34 46.23,299.38 46.56,299.42 46.89,299.47 47.22,299.52 47.55,299.56 47.89,299.61 48.22,299.66 48.55,299.71 48.88,299.76 49.21,299.81 49.55,299.86 49.88,299.90 50.21,299.95 50.54,299.99 50.87,300.04 51.21,300.08 51.54,300.12 51.87,300.16 52.20,300.19 52.53,300.23 52.87,300.26 53.20,300.29 53.53,300.31 53.86,300.34 54.19,300.37 54.53,300.39 54.86,300.42 55.19,300.44 55.52,300.47 55.85,300.49 56.19,300.51 56.52,300.53 56.85,300.56 57.18,300.58 57.51,300.59 57.85,300.61 58.18,300.63 58.51,300.65 58.84,300.66 59.17,300.67 59.51,300.69 59.84,300.70 60.17,300.71 60.50,300.72 60.83,300.72 61.17,300.73 61.50,300.73 61.83,300.73 62.16,300.73 62.49,300.73 62.83,300.73 63.16,300.72 63.49,300.71 63.82,300.69 64.15,300.68 64.49,300.66 64.82,300.64 65.15,300.62 65.48,300.60 65.82,300.58 66.15,300.55 66.48,300.53 66.81,300.50 67.14,300.48 67.48,300.46 67.81,300.43 68.14,300.41 68.47,300.39 68.80,300.37 69.14,300.35 69.47,300.33 69.80,300.31 70.13,300.30 70.46,300.28 70.80,300.27 71.13,300.27 71.46,300.28 71.79,300.34 72.12,300.43 72.46,300.55 72.79,300.68 73.12,300.81 73.45,300.95 73.78,301.06 74.12,301.15 74.45,301.21 74.78,301.21 75.11,301.16 75.44,301.04 75.78,300.86 76.11,300.62 76.44,300.32 76.77,299.97 77.10,299.57 77.44,299.13 77.77,298.65 78.10,298.04 78.43,297.18 78.76,296.10 79.10,294.86 79.43,293.51 79.76,292.10 80.09,290.67 80.42,289.27 80.76,287.80 81.09,286.25 81.42,284.63 81.75,282.95 82.08,281.22 82.42,279.45 82.75,277.66 83.08,275.85 83.41,274.04 83.74,272.24 84.08,270.47 84.41,268.73 84.74,266.96 85.07,265.06 85.40,263.08 85.74,261.03 86.07,258.95 86.40,256.87 86.73,254.82 87.06,252.83 87.40,250.92 87.73,249.13 88.06,247.50 88.39,246.03 88.73,244.76 89.06,243.53 89.39,242.33 89.72,241.17 90.05,240.07 90.39,239.04 90.72,238.12 91.05,237.31 91.38,236.63 91.71,236.10 92.05,235.74 92.38,235.52 92.71,235.45 93.04,235.49 93.37,235.59 93.71,235.74 94.04,235.93 94.37,236.16 94.70,236.42 95.03,236.71 95.37,237.01 95.70,237.33 96.03,237.65 96.36,237.98 96.69,238.30 97.03,238.62 97.36,238.96 97.69,239.31 98.02,239.69 98.35,240.08 98.69,240.48 99.02,240.89 99.35,241.31 99.68,241.73 100.01,242.16 100.35,242.59 100.68,243.02 101.01,243.44 101.34,243.85 101.67,244.25 102.01,244.65 102.34,245.05 102.67,245.46 103.00,245.88 103.33,246.31 103.67,246.74 104.00,247.17 104.33,247.61 104.66,248.05 104.99,248.49 105.33,248.93 105.66,249.36 105.99,249.79 106.32,250.22 106.65,250.64 106.99,251.06 107.32,251.46 107.65,251.86 107.98,252.24 108.31,252.61 108.65,252.97 108.98,253.32 109.31,253.64 109.64,253.97 109.98,254.31 110.31,254.65 110.64,255.00 110.97,255.36 111.30,255.71 111.64,256.07 111.97,256.43 112.30,256.78 112.63,257.13 112.96,257.47 113.30,257.80 113.63,258.12 113.96,258.43 114.29,258.73 114.62,259.01 114.96,259.28 115.29,259.52 115.62,259.77 115.95,260.01 116.28,260.25 116.62,260.48 116.95,260.71 117.28,260.94 117.61,261.17 117.94,261.40 118.28,261.62 118.61,261.84 118.94,262.05 119.27,262.27 119.60,262.48 119.94,262.69 120.27,262.90 120.60,263.11 120.93,263.31 121.26,263.52 121.60,263.72 121.93,263.92 122.26,264.12 122.59,264.32 122.92,264.52 123.26,264.71 123.59,264.91 123.92,265.10 124.25,265.29 124.58,265.48 124.92,265.67 125.25,265.86 125.58,266.04 125.91,266.22 126.24,266.40 126.58,266.58 126.91,266.76 127.24,266.93 127.57,267.10 127.90,267.27 128.24,267.44 128.57,267.61 128.90,267.77 129.23,267.94 129.56,268.10 129.90,268.25 130.23,268.41 130.56,268.56 130.89,268.71 131.22,268.86 131.56,269.01 131.89,269.15 132.22,269.30 132.55,269.44 132.89,269.58 133.22,269.72 133.55,269.86 133.88,269.99 134.21,270.13 134.55,270.26 134.88,270.39 135.21,270.52 135.54,270.65 135.87,270.78 136.21,270.91 136.54,271.04 136.87,271.16 137.20,271.29 137.53,271.42 137.87,271.55 138.20,271.68 138.53,271.81 138.86,271.94 139.19,272.07 139.53,272.20 139.86,272.33 140.19,272.47 140.52,272.61 140.85,272.75 141.19,272.88 141.52,273.02 141.85,273.16 142.18,273.30 142.51,273.44 142.85,273.59 143.18,273.73 143.51,273.87 143.84,274.01 144.17,274.15 144.51,274.29 144.84,274.42 145.17,274.56 145.50,274.70 145.83,274.83 146.17,274.97 146.50,275.10 146.83,275.23 147.16,275.36 147.49,275.49 147.83,275.61 148.16,275.73 148.49,275.85 148.82,275.97 149.15,276.09 149.49,276.21 149.82,276.32 150.15,276.43 150.48,276.54 150.81,276.65 151.15,276.75 151.48,276.86 151.81,276.96 152.14,277.07 152.47,277.17 152.81,277.27 153.14,277.37 153.47,277.47 153.80,277.56 154.14,277.66 154.47,277.75 154.80,277.84 155.13,277.93 155.46,278.02 155.80,278.11 156.13,278.19 156.46,278.27 156.79,278.35 157.12,278.43 157.46,278.51 157.79,278.59 158.12,278.66 158.45,278.74 158.78,278.81 159.12,278.88 159.45,278.95 159.78,279.02 160.11,279.09 160.44,279.16 160.78,279.23 161.11,279.29 161.44,279.36 161.77,279.42 162.10,279.48 162.44,279.54 162.77,279.59 163.10,279.65 163.43,279.70 163.76,279.75 164.10,279.80 164.43,279.85 164.76,279.90 164.76,296.07 164.43,296.03 164.10,295.99 163.76,295.95 163.43,295.91 163.10,295.86 162.77,295.82 162.44,295.78 162.10,295.73 161.77,295.69 161.44,295.64 161.11,295.59 160.78,295.55 160.44,295.50 160.11,295.45 159.78,295.40 159.45,295.35 159.12,295.30 158.78,295.25 158.45,295.20 158.12,295.15 157.79,295.10 157.46,295.04 157.12,294.99 156.79,294.94 156.46,294.89 156.13,294.83 155.80,294.78 155.46,294.72 155.13,294.66 154.80,294.60 154.47,294.54 154.14,294.47 153.80,294.41 153.47,294.34 153.14,294.28 152.81,294.21 152.47,294.14 152.14,294.07 151.81,294.00 151.48,293.93 151.15,293.86 150.81,293.79 150.48,293.72 150.15,293.64 149.82,293.56 149.49,293.49 149.15,293.40 148.82,293.32 148.49,293.24 148.16,293.15 147.83,293.07 147.49,292.98 147.16,292.90 146.83,292.81 146.50,292.73 146.17,292.64 145.83,292.55 145.50,292.47 145.17,292.38 144.84,292.30 144.51,292.22 144.17,292.13 143.84,292.05 143.51,291.97 143.18,291.89 142.85,291.81 142.51,291.73 142.18,291.65 141.85,291.58 141.52,291.50 141.19,291.43 140.85,291.36 140.52,291.29 140.19,291.22 139.86,291.15 139.53,291.09 139.19,291.02 138.86,290.96 138.53,290.90 138.20,290.84 137.87,290.79 137.53,290.73 137.20,290.67 136.87,290.62 136.54,290.56 136.21,290.50 135.87,290.45 135.54,290.39 135.21,290.33 134.88,290.27 134.55,290.21 134.21,290.14 133.88,290.08 133.55,290.01 133.22,289.94 132.89,289.87 132.55,289.79 132.22,289.71 131.89,289.63 131.56,289.55 131.22,289.47 130.89,289.38 130.56,289.30 130.23,289.22 129.90,289.14 129.56,289.05 129.23,288.97 128.90,288.88 128.57,288.80 128.24,288.71 127.90,288.62 127.57,288.54 127.24,288.45 126.91,288.35 126.58,288.26 126.24,288.16 125.91,288.07 125.58,287.97 125.25,287.87 124.92,287.76 124.58,287.66 124.25,287.55 123.92,287.44 123.59,287.32 123.26,287.21 122.92,287.09 122.59,286.97 122.26,286.84 121.93,286.71 121.60,286.58 121.26,286.45 120.93,286.31 120.60,286.17 120.27,286.02 119.94,285.87 119.60,285.72 119.27,285.56 118.94,285.39 118.61,285.22 118.28,285.04 117.94,284.86 117.61,284.67 117.28,284.48 116.95,284.28 116.62,284.07 116.28,283.85 115.95,283.63 115.62,283.40 115.29,283.16 114.96,282.91 114.62,282.65 114.29,282.37 113.96,282.07 113.63,281.76 113.30,281.44 112.96,281.10 112.63,280.76 112.30,280.41 111.97,280.06 111.64,279.71 111.30,279.35 110.97,278.99 110.64,278.64 110.31,278.29 109.98,277.94 109.64,277.61 109.31,277.28 108.98,276.97 108.65,276.67 108.31,276.40 107.98,276.14 107.65,275.89 107.32,275.66 106.99,275.44 106.65,275.23 106.32,275.03 105.99,274.84 105.66,274.65 105.33,274.46 104.99,274.28 104.66,274.11 104.33,273.93 104.00,273.75 103.67,273.56 103.33,273.38 103.00,273.18 102.67,272.98 102.34,272.77 102.01,272.55 101.67,272.32 101.34,272.08 101.01,271.84 100.68,271.59 100.35,271.34 100.01,271.10 99.68,270.85 99.35,270.61 99.02,270.37 98.69,270.14 98.35,269.92 98.02,269.71 97.69,269.51 97.36,269.32 97.03,269.15 96.69,269.00 96.36,268.83 96.03,268.66 95.70,268.47 95.37,268.29 95.03,268.11 94.70,267.94 94.37,267.79 94.04,267.66 93.71,267.55 93.37,267.48 93.04,267.43 92.71,267.43 92.38,267.53 92.05,267.77 91.71,268.12 91.38,268.54 91.05,269.01 90.72,269.52 90.39,270.07 90.05,270.64 89.72,271.22 89.39,271.80 89.06,272.37 88.73,272.92 88.39,273.48 88.06,274.19 87.73,275.06 87.40,276.06 87.06,277.17 86.73,278.37 86.40,279.64 86.07,280.95 85.74,282.27 85.40,283.60 85.07,284.90 84.74,286.15 84.41,287.33 84.08,288.48 83.74,289.65 83.41,290.82 83.08,291.97 82.75,293.12 82.42,294.23 82.08,295.32 81.75,296.36 81.42,297.35 81.09,298.28 80.76,299.14 80.42,299.92 80.09,300.65 79.76,301.42 79.43,302.19 79.10,302.91 78.76,303.55 78.43,304.05 78.10,304.36 77.77,304.45 77.44,304.45 77.10,304.44 76.77,304.44 76.44,304.43 76.11,304.42 75.78,304.40 75.44,304.37 75.11,304.33 74.78,304.29 74.45,304.20 74.12,304.08 73.78,303.93 73.45,303.76 73.12,303.57 72.79,303.39 72.46,303.21 72.12,303.05 71.79,302.92 71.46,302.81 71.13,302.74 70.80,302.69 70.46,302.64 70.13,302.59 69.80,302.53 69.47,302.48 69.14,302.42 68.80,302.37 68.47,302.31 68.14,302.26 67.81,302.21 67.48,302.16 67.14,302.11 66.81,302.06 66.48,302.01 66.15,301.97 65.82,301.93 65.48,301.89 65.15,301.85 64.82,301.81 64.49,301.78 64.15,301.75 63.82,301.73 63.49,301.71 63.16,301.69 62.83,301.68 62.49,301.67 62.16,301.67 61.83,301.67 61.50,301.69 61.17,301.72 60.83,301.77 60.50,301.83 60.17,301.90 59.84,301.99 59.51,302.08 59.17,302.18 58.84,302.29 58.51,302.41 58.18,302.53 57.85,302.66 57.51,302.79 57.18,302.93 56.85,303.07 56.52,303.21 56.19,303.35 55.85,303.50 55.52,303.64 55.19,303.78 54.86,303.92 54.53,304.06 54.19,304.19 53.86,304.31 53.53,304.44 53.20,304.55 52.87,304.66 52.53,304.77 52.20,304.88 51.87,305.00 51.54,305.13 51.21,305.26 50.87,305.39 50.54,305.52 50.21,305.65 49.88,305.79 49.55,305.93 49.21,306.07 48.88,306.20 48.55,306.34 48.22,306.47 47.89,306.61 47.55,306.74 47.22,306.86 46.89,306.99 46.56,307.11 46.23,307.22 45.89,307.33 45.56,307.44 45.23,307.54 44.90,307.63 44.57,307.71 44.23,307.79 43.90,307.85 43.57,307.91 43.24,307.96 42.90,308.00 42.57,308.02 42.24,308.04 41.91,308.05 41.58,308.06 41.24,308.07 40.91,308.07 40.58,308.08 40.25,308.08 39.92,308.09 39.58,308.09 39.25,308.09 38.92,308.09 38.59,308.09 38.26,308.09 37.92,308.08 37.59,308.08 37.26,308.07 36.93,308.06 36.60,308.05 36.26,308.04 35.93,308.02 35.60,308.01 35.27,307.99 34.94,307.97 34.60,307.95 34.27,307.92 33.94,307.90 33.61,307.87 33.28,307.84 32.94,307.80 32.61,307.77 32.28,307.73" fill="#ff6e78" fill-opacity="0.4" stroke="none"/>
<polyline points="32.28,299.64 32.61,299.65 32.94,299.66 33.28,299.67 33.61,299.68 33.94,299.69 34.27,299.70 34.60,299.72 34.94,299.74 35.27,299.76 35.60,299.78 35.93,299.80 36.26,299.83 36.60,299.85 36.93,299.88 37.26,299.91 37.59,299.94 37.92,299.97 38.26,300.00 38.59,300.03 38.92,300.06 39.25,300.10 39.58,300.13 39.92,300.17 40.25,300.20 40.58,300.24 40.91,300.28 41.24,300.31 41.58,300.35 41.91,300.39 42.24,300.43 42.57,300.47 42.90,300.52 43.24,300.58 43.57,300.64 43.90,300.71 44.23,300.79 44.57,300.87 44.90,300.96 45.23,301.05 45.56,301.14 45.89,301.24 46.23,301.33 46.56,301.43 46.89,301.53 47.22,301.63 47.55,301.73 47.89,301.83 48.22,301.92 48.55,302.02 48.88,302.11 49.21,302.20 49.55,302.28 49.88,302.36 50.21,302.43 50.54,302.50 50.87,302.56 51.21,302.61 51.54,302.66 51.87,302.70 52.20,302.73 52.53,302.75 52.87,302.75 53.20,302.75 53.53,302.74 53.86,302.73 54.19,302.70 54.53,302.67 54.86,302.64 55.19,302.60 55.52,302.55 55.85,302.50 56.19,302.44 56.52,302.38 56.85,302.32 57.18,302.25 57.51,302.19 57.85,302.11 58.18,302.04 58.51,301.97 58.84,301.89 59.17,301.82 59.51,301.74 59.84,301.67 60.17,301.59 60.50,301.52 60.83,301.45 61.17,301.38 61.50,301.31 61.83,301.25 62.16,301.19 62.49,301.12 62.83,301.06 63.16,300.99 63.49,300.91 63.82,300.83 64.15,300.75 64.49,300.67 64.82,300.59 65.15,300.51 65.48,300.43 65.82,300.34 66.15,300.26 66.48,300.18 66.81,300.10 67.14,300.03 67.48,299.95 67.81,299.88 68.14,299.82 68.47,299.75 68.80,299.70 69.14,299.65 69.47,299.60 69.80,299.57 70.13,299.53 70.46,299.51 70.80,299.50 71.13,299.49 71.46,299.49 71.79,299.49 72.12,299.50 72.46,299.51 72.79,299.52 73.12,299.53 73.45,299.54 73.78,299.55 74.12,299.57 74.45,299.58 74.78,299.59 75.11,299.61 75.44,299.62 75.78,299.63 76.11,299.64 76.44,299.64 76.77,299.64 77.10,299.64 77.44,299.52 77.77,299.29 78.10,298.94 78.43,298.51 78.76,297.99 79.10,297.41 79.43,296.78 79.76,296.11 80.09,295.42 80.42,294.71 80.76,293.78 81.09,292.62 81.42,291.32 81.75,289.92 82.08,288.49 82.42,287.09 82.75,285.79 83.08,284.58 83.41,283.38 83.74,282.17 84.08,280.97 84.41,279.78 84.74,278.61 85.07,277.45 85.40,276.30 85.74,275.18 86.07,274.09 86.40,273.00 86.73,271.88 87.06,270.74 87.40,269.61 87.73,268.49 88.06,267.39 88.39,266.32 88.73,265.30 89.06,264.33 89.39,263.44 89.72,262.63 90.05,261.91 90.39,261.28 90.72,260.70 91.05,260.14 91.38,259.60 91.71,259.09 92.05,258.61 92.38,258.16 92.71,257.74 93.04,257.34 93.37,256.99 93.71,256.66 94.04,256.37 94.37,256.11 94.70,255.88 95.03,255.64 95.37,255.41 95.70,255.18 96.03,254.97 96.36,254.78 96.69,254.60 97.03,254.44 97.36,254.30 97.69,254.20 98.02,254.13 98.35,254.09 98.69,254.09 99.02,254.11 99.35,254.16 99.68,254.23 100.01,254.32 100.35,254.42 100.68,254.53 101.01,254.66 101.34,254.79 101.67,254.93 102.01,255.06 102.34,255.20 102.67,255.33 103.00,255.47 103.33,255.62 103.67,255.79 104.00,255.97 104.33,256.15 104.66,256.35 104.99,256.54 105.33,256.75 105.66,256.96 105.99,257.16 106.32,257.37 106.65,257.57 106.99,257.77 107.32,257.97 107.65,258.18 107.98,258.38 108.31,258.59 108.65,258.80 108.98,259.01 109.31,259.22 109.64,259.43 109.98,259.65 110.31,259.86 110.64,260.08 110.97,260.30 111.30,260.52 111.64,260.74 111.97,260.96 112.30,261.19 112.63,261.41 112.96,261.64 113.30,261.86 113.63,262.09 113.96,262.32 114.29,262.55 114.62,262.78 114.96,263.02 115.29,263.25 115.62,263.48 115.95,263.72 116.28,263.96 116.62,264.21 116.95,264.45 117.28,264.70 117.61,264.94 117.94,265.19 118.28,265.44 118.61,265.69 118.94,265.95 119.27,266.20 119.60,266.45 119.94,266.71 120.27,266.96 120.60,267.22 120.93,267.47 121.26,267.73 121.60,267.98 121.93,268.24 122.26,268.49 122.59,268.74 122.92,268.99 123.26,269.24 123.59,269.49 123.92,269.75 124.25,270.00 124.58,270.26 124.92,270.52 125.25,270.78 125.58,271.04 125.91,271.30 126.24,271.56 126.58,271.82 126.91,272.08 127.24,272.34 127.57,272.60 127.90,272.86 128.24,273.11 128.57,273.37 128.90,273.62 129.23,273.86 129.56,274.11 129.90,274.35 130.23,274.59 130.56,274.82 130.89,275.05 131.22,275.27 131.56,275.49 131.89,275.70 132.22,275.91 132.55,276.13 132.89,276.33 133.22,276.54 133.55,276.75 133.88,276.95 134.21,277.15 134.55,277.35 134.88,277.55 135.21,277.75 135.54,277.94 135.87,278.13 136.21,278.32 136.54,278.50 136.87,278.68 137.20,278.86 137.53,279.04 137.87,279.21 138.20,279.38 138.53,279.55 138.86,279.71 139.19,279.87 139.53,280.03 139.86,280.18 140.19,280.33 140.52,280.47 140.85,280.61 141.19,280.75 141.52,280.89 141.85,281.02 142.18,281.15 142.51,281.27 142.85,281.40 143.18,281.52 143.51,281.64 143.84,281.76 144.17,281.88 144.51,282.00 144.84,282.12 145.17,282.23 145.50,282.35 145.83,282.47 146.17,282.58 146.50,282.70 146.83,282.82 147.16,282.94 147.49,283.06 147.83,283.18 148.16,283.30 148.49,283.43 148.82,283.55 149.15,283.68 149.49,283.80 149.82,283.93 150.15,284.05 150.48,284.17 150.81,284.30 151.15,284.42 151.48,284.55 151.81,284.67 152.14,284.80 152.47,284.92 152.81,285.05 153.14,285.17 153.47,285.30 153.80,285.42 154.14,285.55 154.47,285.67 154.80,285.80 155.13,285.92 155.46,286.05 155.80,286.17 156.13,286.29 156.46,286.42 156.79,286.54 157.12,286.67 157.46,286.79 157.79,286.92 158.12,287.04 158.45,287.17 158.78,287.29 159.12,287.42 159.45,287.54 159.78,287.67 160.11,287.79 160.44,287.92 160.78,288.04 161.11,288.17 161.44,288.29 161.77,288.42 162.10,288.54 162.44,288.66 162.77,288.79 163.10,288.91 163.43,289.04 163.76,289.16 164.10,289.29 164.43,289.41 164.76,289.54" fill="none" stroke="#7050d8" stroke-width="1.0" stroke-opacity="0.7" stroke-linejoin="round"/>
<polyline points="32.28,303.07 32.61,303.10 32.94,303.14 33.28,303.17 33.61,303.21 33.94,303.24 34.27,303.27 34.60,303.29 34.94,303.32 35.27,303.34 35.60,303.36 35.93,303.38 36.26,303.40 36.60,303.42 36.93,303.43 37.26,303.45 37.59,303.46 37.92,303.47 38.26,303.48 38.59,303.49 38.92,303.50 39.25,303.51 39.58,303.51 39.92,303.52 40.25,303.52 40.58,303.53 40.91,303.53 41.24,303.53 41.58,303.53 41.91,303.53 42.24,303.53 42.57,303.53 42.90,303.52 43.24,303.52 43.57,303.50 43.90,303.49 44.23,303.47 44.57,303.45 44.90,303.42 45.23,303.40 45.56,303.37 45.89,303.33 46.23,303.30 46.56,303.27 46.89,303.23 47.22,303.19 47.55,303.15 47.89,303.11 48.22,303.07 48.55,303.02 48.88,302.98 49.21,302.94 49.55,302.89 49.88,302.85 50.21,302.80 50.54,302.76 50.87,302.71 51.21,302.67 51.54,302.62 51.87,302.58 52.20,302.54 52.53,302.50 52.87,302.46 53.20,302.42 53.53,302.37 53.86,302.33 54.19,302.28 54.53,302.22 54.86,302.17 55.19,302.11 55.52,302.05 55.85,301.99 56.19,301.93 56.52,301.87 56.85,301.81 57.18,301.75 57.51,301.69 57.85,301.63 58.18,301.58 58.51,301.53 58.84,301.47 59.17,301.43 59.51,301.38 59.84,301.34 60.17,301.31 60.50,301.27 60.83,301.25 61.17,301.23 61.50,301.21 61.83,301.20 62.16,301.20 62.49,301.20 62.83,301.20 63.16,301.20 63.49,301.21 63.82,301.21 64.15,301.22 64.49,301.22 64.82,301.23 65.15,301.23 65.48,301.24 65.82,301.25 66.15,301.26 66.48,301.27 66.81,301.28 67.14,301.29 67.48,301.31 67.81,301.32 68.14,301.34 68.47,301.35 68.80,301.37 69.14,301.38 69.47,301.40 69.80,301.42 70.13,301.44 70.46,301.46 70.80,301.48 71.13,301.51 71.46,301.54 71.79,301.63 72.12,301.74 72.46,301.88 72.79,302.03 73.12,302.19 73.45,302.35 73.78,302.49 74.12,302.62 74.45,302.70 74.78,302.75 75.11,302.75 75.44,302.71 75.78,302.63 76.11,302.52 76.44,302.37 76.77,302.20 77.10,302.01 77.44,301.79 77.77,301.55 78.10,301.20 78.43,300.61 78.76,299.83 79.10,298.89 79.43,297.85 79.76,296.76 80.09,295.66 80.42,294.59 80.76,293.47 81.09,292.26 81.42,290.99 81.75,289.65 82.08,288.27 82.42,286.84 82.75,285.39 83.08,283.91 83.41,282.43 83.74,280.95 84.08,279.48 84.41,278.03 84.74,276.55 85.07,274.98 85.40,273.34 85.74,271.65 86.07,269.95 86.40,268.26 86.73,266.60 87.06,265.00 87.40,263.49 87.73,262.10 88.06,260.84 88.39,259.75 88.73,258.84 89.06,257.95 89.39,257.06 89.72,256.19 90.05,255.35 90.39,254.56 90.72,253.82 91.05,253.16 91.38,252.58 91.71,252.11 92.05,251.75 92.38,251.52 92.71,251.44 93.04,251.46 93.37,251.53 93.71,251.65 94.04,251.80 94.37,251.98 94.70,252.18 95.03,252.41 95.37,252.65 95.70,252.90 96.03,253.15 96.36,253.41 96.69,253.65 97.03,253.89 97.36,254.14 97.69,254.41 98.02,254.70 98.35,255.00 98.69,255.31 99.02,255.63 99.35,255.96 99.68,256.29 100.01,256.63 100.35,256.97 100.68,257.30 101.01,257.64 101.34,257.97 101.67,258.29 102.01,258.60 102.34,258.91 102.67,259.22 103.00,259.53 103.33,259.84 103.67,260.15 104.00,260.46 104.33,260.77 104.66,261.08 104.99,261.39 105.33,261.70 105.66,262.00 105.99,262.31 106.32,262.63 106.65,262.94 106.99,263.25 107.32,263.56 107.65,263.87 107.98,264.19 108.31,264.51 108.65,264.82 108.98,265.14 109.31,265.46 109.64,265.79 109.98,266.12 110.31,266.47 110.64,266.82 110.97,267.17 111.30,267.53 111.64,267.89 111.97,268.24 112.30,268.60 112.63,268.94 112.96,269.29 113.30,269.62 113.63,269.94 113.96,270.25 114.29,270.55 114.62,270.83 114.96,271.09 115.29,271.34 115.62,271.58 115.95,271.82 116.28,272.05 116.62,272.27 116.95,272.50 117.28,272.71 117.61,272.92 117.94,273.13 118.28,273.33 118.61,273.53 118.94,273.72 119.27,273.91 119.60,274.10 119.94,274.28 120.27,274.46 120.60,274.64 120.93,274.81 121.26,274.98 121.60,275.15 121.93,275.32 122.26,275.48 122.59,275.64 122.92,275.80 123.26,275.96 123.59,276.12 123.92,276.27 124.25,276.42 124.58,276.57 124.92,276.72 125.25,276.86 125.58,277.00 125.91,277.14 126.24,277.28 126.58,277.42 126.91,277.56 127.24,277.69 127.57,277.82 127.90,277.95 128.24,278.08 128.57,278.20 128.90,278.33 129.23,278.45 129.56,278.57 129.90,278.69 130.23,278.81 130.56,278.93 130.89,279.05 131.22,279.16 131.56,279.28 131.89,279.39 132.22,279.50 132.55,279.61 132.89,279.72 133.22,279.83 133.55,279.93 133.88,280.03 134.21,280.13 134.55,280.23 134.88,280.33 135.21,280.42 135.54,280.52 135.87,280.61 136.21,280.70 136.54,280.80 136.87,280.89 137.20,280.98 137.53,281.07 137.87,281.17 138.20,281.26 138.53,281.35 138.86,281.45 139.19,281.55 139.53,281.64 139.86,281.74 140.19,281.84 140.52,281.95 140.85,282.05 141.19,282.16 141.52,282.26 141.85,282.37 142.18,282.48 142.51,282.59 142.85,282.70 143.18,282.81 143.51,282.92 143.84,283.03 144.17,283.14 144.51,283.25 144.84,283.36 145.17,283.47 145.50,283.58 145.83,283.69 146.17,283.80 146.50,283.91 146.83,284.02 147.16,284.13 147.49,284.23 147.83,284.34 148.16,284.44 148.49,284.55 148.82,284.65 149.15,284.75 149.49,284.85 149.82,284.94 150.15,285.04 150.48,285.13 150.81,285.22 151.15,285.31 151.48,285.40 151.81,285.48 152.14,285.57 152.47,285.66 152.81,285.74 153.14,285.82 153.47,285.91 153.80,285.99 154.14,286.07 154.47,286.15 154.80,286.22 155.13,286.30 155.46,286.37 155.80,286.44 156.13,286.51 156.46,286.58 156.79,286.65 157.12,286.71 157.46,286.78 157.79,286.84 158.12,286.90 158.45,286.97 158.78,287.03 159.12,287.09 159.45,287.15 159.78,287.21 160.11,287.27 160.44,287.33 160.78,287.39 161.11,287.44 161.44,287.50 161.77,287.55 162.10,287.60 162.44,287.66 162.77,287.71 163.10,287.76 163.43,287.80 163.76,287.85 164.10,287.90 164.43,287.94 164.76,287.98" fill="none" stroke="#f04070" stroke-width="1.0" stroke-opacity="0.65" stroke-linejoin="round"/>
<line x1="65.5" y1="222.4" x2="65.5" y2="332.5" stroke="#d6e8c6" stroke-width="1"/>
<circle cx="65.5" cy="222.4" r="1.6" fill="white" stroke="#d6e8c6" stroke-width="0.8"/>
<circle cx="65.5" cy="332.5" r="1.6" fill="white" stroke="#d6e8c6" stroke-width="0.8"/>
<text x="0" y="0" font-size="7.1" text-anchor="middle" fill="#222" font-weight="normal" stroke="#222" stroke-width="0.12" transform="translate(15.14 278.50) rotate(-90) scale(1.0 1.0)">SCR variation (µS)</text>
<line x1="68.4" y1="231.8" x2="93.5" y2="231.8" stroke="#666" stroke-width="1.2"/>
<circle cx="68.2" cy="231.8" r="1.1" fill="#111"/>
<circle cx="93.7" cy="231.8" r="1.1" fill="#111"/>
<text x="84.90" y="229.43" font-size="7.2" text-anchor="middle" fill="#333" font-weight="normal" stroke="#333" stroke-width="0.12">Stimulation</text>
<text x="0" y="0" font-size="7" text-anchor="middle" fill="#333" font-weight="normal" stroke="#333" stroke-width="0.2" transform="translate(104.90 348.80) scale(1.0 1.08)">Time (s)</text>
<text x="87.85" y="362.83" font-size="11" text-anchor="middle" fill="#111" font-weight="bold" stroke="#111" stroke-width="0.4">(c)</text>
<text x="0" y="0" font-size="7" text-anchor="end" fill="#555" font-weight="normal" stroke="#555" stroke-width="0.12" transform="translate(219.00 234.90) scale(1.0 1.08)">40-</text>
<text x="0" y="0" font-size="7" text-anchor="end" fill="#555" font-weight="normal" stroke="#555" stroke-width="0.12" transform="translate(219.00 259.50) scale(1.0 1.08)">30-</text>
<text x="0" y="0" font-size="7" text-anchor="end" fill="#555" font-weight="normal" stroke="#555" stroke-width="0.12" transform="translate(219.00 284.20) scale(1.0 1.08)">20-</text>
<text x="0" y="0" font-size="7" text-anchor="end" fill="#555" font-weight="normal" stroke="#555" stroke-width="0.12" transform="translate(219.00 308.90) scale(1.0 1.08)">10-</text>
<text x="0" y="0" font-size="7" text-anchor="end" fill="#555" font-weight="normal" stroke="#555" stroke-width="0.12" transform="translate(219.00 333.30) scale(1.0 1.08)">0-</text>
<rect x="221" y="294" width="19.099999999999994" height="38.5" fill="url(#hb)"/>
<rect x="244.3" y="294" width="19.099999999999966" height="38.5" fill="url(#hr)"/>
<line x1="230.55" y1="285.7" x2="230.55" y2="302" stroke="#b0b0b0" stroke-width="1" stroke-opacity="0.8"/>
<line x1="253.85" y1="284.8" x2="253.85" y2="302" stroke="#b0b0b0" stroke-width="1" stroke-opacity="0.8"/>
<text x="0" y="0" font-size="8" text-anchor="middle" fill="#222" font-weight="normal" stroke="#222" stroke-width="0.12" transform="translate(239.30 219.67) scale(1.0 1.08)">Area</text>
<text x="0" y="0" font-size="8.7" text-anchor="middle" fill="#222" font-weight="normal" stroke="#222" stroke-width="0.2" transform="translate(202.49 280.70) rotate(-90) scale(0.975 1.0)">AUC (µS.s)</text>
<text x="0" y="0" font-size="7" text-anchor="end" fill="#555" font-weight="normal" stroke="#555" stroke-width="0.12" transform="translate(313.80 232.10) scale(1.0 1.08)">0.6-</text>
<text x="0" y="0" font-size="7" text-anchor="end" fill="#555" font-weight="normal" stroke="#555" stroke-width="0.12" transform="translate(313.80 265.50) scale(1.0 1.08)">0.4-</text>
<text x="0" y="0" font-size="7" text-anchor="end" fill="#555" font-weight="normal" stroke="#555" stroke-width="0.12" transform="translate(313.80 300.00) scale(1.0 1.08)">0.2-</text>
<text x="0" y="0" font-size="7" text-anchor="end" fill="#555" font-weight="normal" stroke="#555" stroke-width="0.12" transform="translate(313.80 334.20) scale(1.0 1.08)">0.0-</text>
<rect x="316.2" y="270.2" width="18.600000000000023" height="62.60000000000002" fill="url(#hb)"/>
<rect x="339.7" y="271.1" width="19.0" height="61.69999999999999" fill="url(#hr)"/>
<line x1="325.5" y1="256.9" x2="325.5" y2="284.5" stroke="#b0b0b0" stroke-width="1" stroke-opacity="0.8"/>
<line x1="349.2" y1="256.3" x2="349.2" y2="286.4" stroke="#b0b0b0" stroke-width="1" stroke-opacity="0.8"/>
<text x="0" y="0" font-size="8" text-anchor="middle" fill="#222" font-weight="normal" stroke="#222" stroke-width="0.12" transform="translate(336.60 219.67) scale(1.0 1.08)">Amplitude</text>
<text x="0" y="0" font-size="8.6" text-anchor="middle" fill="#222" font-weight="normal" stroke="#222" stroke-width="0.12" transform="translate(296.16 278.00) rotate(-90) scale(1.0 1.0)">variation (µS)</text>
<text x="0" y="0" font-size="7" text-anchor="end" fill="#555" font-weight="normal" stroke="#555" stroke-width="0.12" transform="translate(405.60 238.30) scale(1.0 1.08)">6.0-</text>
<text x="0" y="0" font-size="7" text-anchor="end" fill="#555" font-weight="normal" stroke="#555" stroke-width="0.12" transform="translate(405.60 262.00) scale(1.0 1.08)">4.5-</text>
<text x="0" y="0" font-size="7" text-anchor="end" fill="#555" font-weight="normal" stroke="#555" stroke-width="0.12" transform="translate(405.60 287.10) scale(1.0 1.08)">3.0-</text>
<text x="0" y="0" font-size="7" text-anchor="end" fill="#555" font-weight="normal" stroke="#555" stroke-width="0.12" transform="translate(405.60 310.50) scale(1.0 1.08)">1.5-</text>
<text x="0" y="0" font-size="7" text-anchor="end" fill="#555" font-weight="normal" stroke="#555" stroke-width="0.12" transform="translate(405.60 333.40) scale(1.0 1.08)">0.0-</text>
<rect x="408.2" y="261.4" width="18.400000000000034" height="70.60000000000002" fill="url(#hb)"/>
<rect x="431" y="266.6" width="18.30000000000001" height="65.39999999999998" fill="url(#hr)"/>
<line x1="417.4" y1="259.8" x2="417.4" y2="263" stroke="#b0b0b0" stroke-width="1" stroke-opacity="0.8"/>
<line x1="440.15" y1="265" x2="440.15" y2="268" stroke="#b0b0b0" stroke-width="1" stroke-opacity="0.8"/>
<text x="0" y="0" font-size="8" text-anchor="middle" fill="#222" font-weight="normal" stroke="#222" stroke-width="0.12" transform="translate(425.50 219.27) scale(1.0 1.08)">Latency</text>
<text x="0" y="0" font-size="8.4" text-anchor="middle" fill="#222" font-weight="normal" stroke="#222" stroke-width="0.12" transform="translate(387.69 280.90) rotate(-90) scale(1.0 1.0)">time (s)</text>
<text x="338.70" y="363.68" font-size="11" text-anchor="middle" fill="#111" font-weight="bold" stroke="#111" stroke-width="0.4">(d)</text>
<text x="0" y="0" font-size="8.15" text-anchor="middle" fill="#222" font-weight="normal" stroke="#222" stroke-width="0.12" transform="translate(103.50 391.03) scale(1.0 1.08)">RR interval variation</text>
<line x1="32.5" y1="400" x2="32.5" y2="510.5" stroke="#cfcfcf" stroke-width="1"/>
<line x1="32.5" y1="510.5" x2="165.3" y2="510.5" stroke="#cfcfcf" stroke-width="1"/>
<text x="0" y="0" font-size="7.3" text-anchor="end" fill="#333" font-weight="normal" stroke="#333" stroke-width="0.2" transform="translate(30.00 403.21) scale(1.0 1.08)">0.15</text>
<line x1="32.5" y1="400.5" x2="34.0" y2="400.5" stroke="#cfcfcf" stroke-width="1"/>
<text x="0" y="0" font-size="7.3" text-anchor="end" fill="#333" font-weight="normal" stroke="#333" stroke-width="0.2" transform="translate(30.00 425.31) scale(1.0 1.08)">0.1</text>
<line x1="32.5" y1="422.6" x2="34.0" y2="422.6" stroke="#cfcfcf" stroke-width="1"/>
<text x="0" y="0" font-size="7.3" text-anchor="end" fill="#333" font-weight="normal" stroke="#333" stroke-width="0.2" transform="translate(30.00 447.11) scale(1.0 1.08)">0.05</text>
<line x1="32.5" y1="444.4" x2="34.0" y2="444.4" stroke="#cfcfcf" stroke-width="1"/>
<text x="0" y="0" font-size="7.3" text-anchor="end" fill="#333" font-weight="normal" stroke="#333" stroke-width="0.2" transform="translate(30.00 469.11) scale(1.0 1.08)">0</text>
<line x1="32.5" y1="466.4" x2="34.0" y2="466.4" stroke="#cfcfcf" stroke-width="1"/>
<text x="0" y="0" font-size="7.3" text-anchor="end" fill="#333" font-weight="normal" stroke="#333" stroke-width="0.2" transform="translate(30.00 491.01) scale(1.0 1.08)">−0.05</text>
<line x1="32.5" y1="488.3" x2="34.0" y2="488.3" stroke="#cfcfcf" stroke-width="1"/>
<text x="0" y="0" font-size="7.3" text-anchor="end" fill="#333" font-weight="normal" stroke="#333" stroke-width="0.2" transform="translate(30.00 513.11) scale(1.0 1.08)">−0.1</text>
<line x1="32.5" y1="510.4" x2="34.0" y2="510.4" stroke="#cfcfcf" stroke-width="1"/>
<text x="0" y="0" font-size="7.3" text-anchor="middle" fill="#333" font-weight="normal" stroke="#333" stroke-width="0.2" transform="translate(65.50 520.11) scale(1.0 1.08)">0</text>
<line x1="65.5" y1="510.5" x2="65.5" y2="509.0" stroke="#cfcfcf" stroke-width="1"/>
<text x="0" y="0" font-size="7.3" text-anchor="middle" fill="#333" font-weight="normal" stroke="#333" stroke-width="0.2" transform="translate(108.00 520.11) scale(1.0 1.08)">5</text>
<line x1="108" y1="510.5" x2="108" y2="509.0" stroke="#cfcfcf" stroke-width="1"/>
<text x="0" y="0" font-size="7.3" text-anchor="middle" fill="#333" font-weight="normal" stroke="#333" stroke-width="0.2" transform="translate(149.20 520.11) scale(1.0 1.08)">10</text>
<line x1="149.2" y1="510.5" x2="149.2" y2="509.0" stroke="#cfcfcf" stroke-width="1"/>
<line x1="32.5" y1="466.3" x2="165.3" y2="466.3" stroke="#8a8a8a" stroke-width="1"/>
<polygon points="31.80,456.25 32.14,457.38 32.47,456.86 32.81,457.18 33.15,457.38 33.48,457.30 33.82,458.09 34.16,458.25 34.49,458.70 34.83,457.00 35.17,456.87 35.51,457.31 35.84,457.30 36.18,457.68 36.52,457.88 36.85,458.60 37.19,458.31 37.53,458.64 37.86,457.93 38.20,458.15 38.54,458.26 38.87,457.45 39.21,457.36 39.55,457.81 39.88,457.86 40.22,457.36 40.56,456.33 40.89,456.62 41.23,456.92 41.57,456.27 41.91,456.91 42.24,457.24 42.58,456.86 42.92,456.52 43.25,456.31 43.59,455.92 43.93,457.15 44.26,456.68 44.60,457.06 44.94,458.17 45.27,457.74 45.61,457.66 45.95,457.75 46.28,458.24 46.62,458.00 46.96,457.83 47.29,457.11 47.63,456.47 47.97,456.10 48.31,455.34 48.64,455.22 48.98,455.68 49.32,455.31 49.65,455.07 49.99,454.76 50.33,454.84 50.66,454.31 51.00,455.64 51.34,455.28 51.67,454.88 52.01,455.60 52.35,455.21 52.68,455.50 53.02,454.88 53.36,455.86 53.69,456.23 54.03,455.26 54.37,453.98 54.71,454.87 55.04,455.13 55.38,455.47 55.72,455.57 56.05,454.56 56.39,454.85 56.73,454.39 57.06,454.97 57.40,453.92 57.74,453.85 58.07,453.82 58.41,454.37 58.75,453.11 59.08,452.55 59.42,452.26 59.76,451.47 60.09,450.83 60.43,450.87 60.77,451.18 61.11,451.36 61.44,450.24 61.78,450.58 62.12,450.53 62.45,450.15 62.79,449.69 63.13,449.03 63.46,449.45 63.80,450.01 64.14,449.62 64.47,448.95 64.81,448.30 65.15,448.00 65.48,447.44 65.82,446.92 66.16,446.41 66.49,445.49 66.83,444.89 67.17,444.02 67.51,443.28 67.84,442.27 68.18,441.33 68.52,439.01 68.85,437.36 69.19,435.62 69.53,435.71 69.86,435.26 70.20,434.89 70.54,434.16 70.87,434.47 71.21,433.33 71.55,432.18 71.88,432.33 72.22,432.01 72.56,431.79 72.89,431.35 73.23,430.81 73.57,429.34 73.91,429.02 74.24,428.47 74.58,428.53 74.92,427.83 75.25,427.79 75.59,427.36 75.93,428.25 76.26,428.43 76.60,429.09 76.94,428.71 77.27,428.54 77.61,428.78 77.95,429.17 78.28,429.32 78.62,430.20 78.96,430.85 79.29,431.11 79.63,429.84 79.97,430.35 80.31,430.46 80.64,431.50 80.98,432.39 81.32,432.47 81.65,432.06 81.99,432.27 82.33,432.28 82.66,432.55 83.00,432.76 83.34,433.53 83.67,433.78 84.01,433.60 84.35,434.14 84.68,434.73 85.02,435.34 85.36,435.66 85.69,435.17 86.03,435.90 86.37,436.95 86.71,437.04 87.04,436.47 87.38,435.42 87.72,436.68 88.05,436.63 88.39,437.29 88.73,437.57 89.06,437.53 89.40,437.21 89.74,437.08 90.07,437.65 90.41,437.24 90.75,437.98 91.08,438.23 91.42,437.99 91.76,438.74 92.09,438.58 92.43,438.92 92.77,438.07 93.11,438.06 93.44,438.45 93.78,438.91 94.12,439.16 94.45,439.84 94.79,440.05 95.13,440.21 95.46,440.01 95.80,440.52 96.14,440.46 96.47,441.03 96.81,441.90 97.15,442.81 97.48,443.82 97.82,444.20 98.16,443.85 98.49,444.01 98.83,444.10 99.17,443.78 99.51,444.30 99.84,444.57 100.18,444.90 100.52,446.14 100.85,445.93 101.19,447.32 101.53,447.31 101.86,448.08 102.20,447.89 102.54,448.16 102.87,449.04 103.21,449.11 103.55,449.60 103.88,449.72 104.22,450.11 104.56,450.37 104.89,450.68 105.23,451.62 105.57,452.37 105.91,453.97 106.24,454.22 106.58,455.43 106.92,454.92 107.25,454.54 107.59,455.45 107.93,455.70 108.26,455.74 108.60,456.54 108.94,456.52 109.27,457.02 109.61,457.94 109.95,458.23 110.28,458.43 110.62,458.77 110.96,459.76 111.29,459.69 111.63,459.70 111.97,460.38 112.31,461.30 112.64,461.50 112.98,462.46 113.32,461.92 113.65,462.07 113.99,462.79 114.33,463.45 114.66,464.08 115.00,463.21 115.34,463.91 115.67,464.29 116.01,464.42 116.35,464.72 116.68,463.85 117.02,464.53 117.36,464.49 117.69,464.76 118.03,464.60 118.37,465.51 118.71,464.85 119.04,465.62 119.38,466.24 119.72,467.56 120.05,468.43 120.39,468.77 120.73,468.54 121.06,468.37 121.40,467.59 121.74,467.35 122.07,467.89 122.41,467.92 122.75,468.14 123.08,468.22 123.42,468.20 123.76,467.55 124.09,467.50 124.43,467.88 124.77,467.60 125.11,467.23 125.44,467.76 125.78,468.16 126.12,468.24 126.45,467.83 126.79,469.19 127.13,469.65 127.46,469.19 127.80,469.72 128.14,468.87 128.47,468.75 128.81,469.48 129.15,469.38 129.48,470.00 129.82,470.02 130.16,469.07 130.49,469.78 130.83,468.56 131.17,468.61 131.51,467.86 131.84,467.92 132.18,469.37 132.52,469.60 132.85,469.52 133.19,469.65 133.53,470.03 133.86,469.66 134.20,470.24 134.54,471.27 134.87,471.57 135.21,470.70 135.55,470.94 135.88,470.54 136.22,469.48 136.56,469.05 136.89,469.23 137.23,470.03 137.57,469.64 137.91,469.42 138.24,468.93 138.58,468.51 138.92,468.34 139.25,468.08 139.59,468.78 139.93,468.75 140.26,469.63 140.60,470.23 140.94,470.61 141.27,471.08 141.61,471.46 141.95,471.28 142.28,471.25 142.62,469.79 142.96,469.07 143.29,469.20 143.63,468.58 143.97,468.32 144.31,468.81 144.64,468.44 144.98,468.90 145.32,470.38 145.65,470.01 145.99,470.32 146.33,469.76 146.66,470.30 147.00,470.95 147.34,470.33 147.67,470.84 148.01,470.70 148.35,469.98 148.68,469.98 149.02,470.49 149.36,470.42 149.69,470.30 150.03,470.64 150.37,470.36 150.71,469.80 151.04,468.31 151.38,468.38 151.72,468.75 152.05,468.55 152.39,468.78 152.73,468.76 153.06,468.83 153.40,468.07 153.74,467.97 154.07,467.59 154.41,468.92 154.75,469.31 155.08,468.54 155.42,468.78 155.76,469.42 156.09,470.01 156.43,469.54 156.77,468.88 157.11,469.31 157.44,468.99 157.78,469.15 158.12,468.72 158.45,469.12 158.79,468.08 159.13,467.73 159.46,467.50 159.80,467.71 160.14,468.15 160.47,468.03 160.81,468.11 161.15,467.21 161.48,466.94 161.82,466.43 162.16,466.18 162.49,465.65 162.83,466.40 163.17,466.02 163.51,465.35 163.84,464.97 164.18,464.33 164.52,464.58 164.85,464.92 165.19,465.23 165.53,464.16 165.86,463.29 166.20,463.08 166.20,477.65 165.86,477.64 165.53,477.59 165.19,478.60 164.85,478.50 164.52,479.05 164.18,479.37 163.84,479.89 163.51,480.28 163.17,481.05 162.83,481.58 162.49,480.83 162.16,480.77 161.82,481.32 161.48,482.13 161.15,482.36 160.81,482.59 160.47,482.32 160.14,483.01 159.80,483.13 159.46,482.78 159.13,482.44 158.79,482.53 158.45,483.36 158.12,483.15 157.78,483.59 157.44,484.16 157.11,484.70 156.77,484.06 156.43,483.81 156.09,484.19 155.76,483.74 155.42,483.91 155.08,483.70 154.75,484.72 154.41,484.33 154.07,483.16 153.74,482.90 153.40,482.30 153.06,482.98 152.73,483.40 152.39,483.84 152.05,483.76 151.72,484.42 151.38,483.91 151.04,483.60 150.71,484.54 150.37,484.64 150.03,484.93 149.69,484.25 149.36,484.78 149.02,484.68 148.68,485.04 148.35,485.05 148.01,485.79 147.67,485.75 147.34,485.01 147.00,485.89 146.66,485.11 146.33,484.75 145.99,485.56 145.65,485.03 145.32,485.32 144.98,483.46 144.64,483.02 144.31,483.79 143.97,483.59 143.63,483.82 143.29,484.17 142.96,483.71 142.62,484.15 142.28,485.87 141.95,485.79 141.61,486.41 141.27,485.85 140.94,485.32 140.60,485.28 140.26,484.27 139.93,483.83 139.59,483.43 139.25,483.65 138.92,483.74 138.58,483.14 138.24,483.47 137.91,483.58 137.57,484.61 137.23,484.59 136.89,484.43 136.56,483.79 136.22,483.76 135.88,484.71 135.55,485.64 135.21,485.66 134.87,485.97 134.54,485.75 134.20,485.20 133.86,485.24 133.53,485.43 133.19,484.66 132.85,483.82 132.52,484.14 132.18,483.89 131.84,483.03 131.51,483.26 131.17,483.69 130.83,483.73 130.49,484.63 130.16,484.49 129.82,485.48 129.48,484.89 129.15,483.88 128.81,483.86 128.47,483.77 128.14,484.00 127.80,484.47 127.46,483.72 127.13,484.07 126.79,484.50 126.45,483.49 126.12,483.96 125.78,483.45 125.44,483.34 125.11,483.16 124.77,484.21 124.43,484.06 124.09,483.39 123.76,482.96 123.42,483.14 123.08,483.32 122.75,482.78 122.41,483.05 122.07,483.33 121.74,483.25 121.40,483.06 121.06,482.80 120.73,482.65 120.39,482.63 120.05,482.74 119.72,481.96 119.38,481.40 119.04,481.20 118.71,480.91 118.37,481.17 118.03,479.93 117.69,479.60 117.36,479.19 117.02,479.04 116.68,478.34 116.35,479.09 116.01,478.63 115.67,478.67 115.34,478.48 115.00,478.19 114.66,478.99 114.33,478.78 113.99,477.88 113.65,476.77 113.32,476.45 112.98,477.09 112.64,476.77 112.31,476.23 111.97,475.88 111.63,474.77 111.29,475.07 110.96,475.11 110.62,474.19 110.28,474.18 109.95,473.76 109.61,473.36 109.27,471.97 108.94,471.58 108.60,471.80 108.26,471.15 107.93,470.70 107.59,470.71 107.25,469.11 106.92,469.63 106.58,469.90 106.24,469.37 105.91,468.93 105.57,467.74 105.23,467.69 104.89,467.16 104.56,466.61 104.22,466.15 103.88,465.98 103.55,465.28 103.21,464.55 102.87,464.22 102.54,463.48 102.20,462.97 101.86,463.19 101.53,463.15 101.19,463.00 100.85,461.76 100.52,461.57 100.18,460.38 99.84,459.65 99.51,459.41 99.17,459.45 98.83,460.08 98.49,460.08 98.16,459.68 97.82,459.68 97.48,459.54 97.15,458.67 96.81,458.25 96.47,457.38 96.14,456.55 95.80,456.72 95.46,455.70 95.13,456.34 94.79,455.65 94.45,455.53 94.12,454.82 93.78,455.09 93.44,454.97 93.11,454.16 92.77,453.26 92.43,453.81 92.09,454.31 91.76,455.46 91.42,454.80 91.08,454.46 90.75,453.67 90.41,453.17 90.07,453.56 89.74,453.39 89.40,453.46 89.06,453.40 88.73,453.39 88.39,452.99 88.05,452.44 87.72,452.63 87.38,451.14 87.04,451.38 86.71,451.02 86.37,451.50 86.03,451.88 85.69,451.75 85.36,451.70 85.02,451.22 84.68,450.63 84.35,450.47 84.01,449.96 83.67,449.66 83.34,449.12 83.00,447.87 82.66,447.91 82.33,448.02 81.99,448.08 81.65,448.01 81.32,448.19 80.98,448.50 80.64,447.59 80.31,446.98 79.97,446.09 79.63,445.94 79.29,446.83 78.96,447.10 78.62,446.15 78.28,445.68 77.95,445.73 77.61,445.07 77.27,444.35 76.94,444.28 76.60,444.93 76.26,444.19 75.93,443.66 75.59,442.98 75.25,443.54 74.92,443.94 74.58,444.92 74.24,444.95 73.91,445.17 73.57,444.93 73.23,446.22 72.89,447.10 72.56,447.60 72.22,447.55 71.88,447.28 71.55,447.21 71.21,448.37 70.87,449.72 70.54,448.95 70.20,450.13 69.86,450.40 69.53,450.81 69.19,450.07 68.85,451.45 68.52,453.04 68.18,455.09 67.84,456.07 67.51,457.34 67.17,458.14 66.83,459.01 66.49,459.08 66.16,460.30 65.82,460.65 65.48,461.36 65.15,461.11 64.81,461.60 64.47,462.38 64.14,463.70 63.80,464.08 63.46,463.53 63.13,463.31 62.79,463.88 62.45,464.19 62.12,464.03 61.78,463.94 61.44,463.29 61.11,464.11 60.77,463.95 60.43,463.90 60.09,463.81 59.76,464.06 59.42,464.98 59.08,465.91 58.75,466.51 58.41,467.51 58.07,466.66 57.74,466.61 57.40,466.87 57.06,467.68 56.73,467.54 56.39,467.84 56.05,467.21 55.72,468.24 55.38,468.05 55.04,469.09 54.71,469.31 54.37,468.42 54.03,468.96 53.69,469.25 53.36,469.13 53.02,468.41 52.68,469.12 52.35,468.88 52.01,469.00 51.67,468.38 51.34,468.91 51.00,469.61 50.66,468.63 50.33,468.66 49.99,468.18 49.65,467.97 49.32,468.66 48.98,469.17 48.64,468.91 48.31,468.88 47.97,469.53 47.63,469.72 47.29,470.12 46.96,471.16 46.62,471.21 46.28,471.14 45.95,470.64 45.61,470.43 45.27,471.19 44.94,471.20 44.60,470.74 44.26,470.17 43.93,470.81 43.59,469.15 43.25,469.58 42.92,469.59 42.58,469.97 42.24,470.63 41.91,470.76 41.57,470.47 41.23,470.88 40.89,470.91 40.56,470.92 40.22,471.91 39.88,471.93 39.55,471.79 39.21,471.61 38.87,472.01 38.54,472.61 38.20,472.59 37.86,472.48 37.53,472.74 37.19,472.74 36.85,472.94 36.52,473.25 36.18,472.30 35.84,472.12 35.51,471.91 35.17,472.05 34.83,472.22 34.49,474.10 34.16,473.77 33.82,473.83 33.48,472.61 33.15,472.46 32.81,472.32 32.47,472.21 32.14,472.27 31.80,470.80" fill="#0000ff" fill-opacity="0.22" stroke="none"/>
<polygon points="31.80,458.92 32.14,458.68 32.47,459.01 32.81,459.13 33.15,458.81 33.48,459.31 33.82,458.81 34.16,458.44 34.49,458.54 34.83,457.86 35.17,458.61 35.51,458.31 35.84,459.19 36.18,459.68 36.52,460.72 36.85,460.61 37.19,461.24 37.53,461.07 37.86,461.90 38.20,461.56 38.54,460.90 38.87,460.97 39.21,460.30 39.55,460.01 39.88,458.66 40.22,458.72 40.56,459.44 40.89,459.04 41.23,459.12 41.57,459.86 41.91,459.86 42.24,460.74 42.58,461.15 42.92,461.84 43.25,461.02 43.59,460.52 43.93,461.60 44.26,462.42 44.60,462.47 44.94,463.17 45.27,463.23 45.61,462.79 45.95,463.13 46.28,463.08 46.62,462.89 46.96,461.92 47.29,460.55 47.63,460.22 47.97,459.56 48.31,460.06 48.64,459.82 48.98,460.07 49.32,459.34 49.65,459.82 49.99,459.83 50.33,459.67 50.66,459.05 51.00,459.65 51.34,459.92 51.67,459.66 52.01,459.27 52.35,459.08 52.68,458.57 53.02,458.40 53.36,457.45 53.69,456.83 54.03,457.47 54.37,458.52 54.71,457.99 55.04,457.01 55.38,456.47 55.72,455.69 56.05,455.40 56.39,455.82 56.73,455.42 57.06,455.22 57.40,454.59 57.74,454.84 58.07,454.33 58.41,454.13 58.75,453.35 59.08,453.27 59.42,453.01 59.76,452.87 60.09,452.21 60.43,452.01 60.77,452.48 61.11,452.70 61.44,452.99 61.78,451.89 62.12,452.41 62.45,452.54 62.79,451.91 63.13,451.02 63.46,450.87 63.80,449.85 64.14,448.92 64.47,448.27 64.81,448.15 65.15,447.01 65.48,446.04 65.82,444.58 66.16,444.49 66.49,443.49 66.83,443.68 67.17,443.85 67.51,442.94 67.84,442.69 68.18,441.68 68.52,441.36 68.85,439.58 69.19,438.45 69.53,437.96 69.86,436.50 70.20,435.22 70.54,434.74 70.87,433.43 71.21,431.21 71.55,430.07 71.88,429.48 72.22,429.01 72.56,428.01 72.89,428.32 73.23,429.38 73.57,429.47 73.91,430.03 74.24,429.63 74.58,429.65 74.92,430.06 75.25,430.70 75.59,430.66 75.93,431.60 76.26,432.07 76.60,432.08 76.94,432.25 77.27,432.42 77.61,432.94 77.95,432.52 78.28,432.10 78.62,433.26 78.96,432.47 79.29,432.98 79.63,432.84 79.97,433.85 80.31,434.11 80.64,434.46 80.98,434.57 81.32,434.62 81.65,434.85 81.99,435.94 82.33,436.51 82.66,436.53 83.00,436.54 83.34,436.92 83.67,437.52 84.01,438.06 84.35,439.36 84.68,440.14 85.02,439.72 85.36,439.99 85.69,440.58 86.03,441.28 86.37,440.94 86.71,440.09 87.04,440.74 87.38,440.75 87.72,441.63 88.05,440.98 88.39,440.90 88.73,441.73 89.06,441.37 89.40,441.68 89.74,441.76 90.07,441.88 90.41,442.54 90.75,443.30 91.08,443.31 91.42,443.50 91.76,443.91 92.09,443.01 92.43,443.13 92.77,443.81 93.11,444.52 93.44,444.43 93.78,444.24 94.12,444.09 94.45,443.75 94.79,444.60 95.13,445.00 95.46,445.19 95.80,445.25 96.14,445.08 96.47,446.45 96.81,444.94 97.15,445.58 97.48,445.59 97.82,445.62 98.16,445.09 98.49,445.28 98.83,446.74 99.17,447.59 99.51,447.23 99.84,447.98 100.18,448.83 100.52,450.47 100.85,450.05 101.19,450.25 101.53,450.91 101.86,451.07 102.20,451.13 102.54,451.78 102.87,452.08 103.21,452.24 103.55,452.40 103.88,452.20 104.22,452.27 104.56,452.77 104.89,452.86 105.23,453.75 105.57,454.67 105.91,454.34 106.24,454.83 106.58,455.12 106.92,455.26 107.25,456.26 107.59,456.17 107.93,456.04 108.26,456.13 108.60,456.27 108.94,457.20 109.27,458.70 109.61,459.09 109.95,460.01 110.28,459.85 110.62,460.03 110.96,460.13 111.29,460.60 111.63,460.37 111.97,460.14 112.31,460.28 112.64,460.20 112.98,460.79 113.32,460.96 113.65,461.06 113.99,461.23 114.33,461.05 114.66,461.54 115.00,462.56 115.34,463.90 115.67,464.24 116.01,463.76 116.35,463.12 116.68,464.24 117.02,465.24 117.36,465.30 117.69,464.95 118.03,465.80 118.37,465.35 118.71,465.42 119.04,464.76 119.38,464.58 119.72,464.28 120.05,464.60 120.39,465.42 120.73,465.90 121.06,466.20 121.40,465.60 121.74,465.97 122.07,466.82 122.41,466.82 122.75,466.23 123.08,465.52 123.42,465.06 123.76,466.18 124.09,466.57 124.43,466.73 124.77,466.29 125.11,467.43 125.44,467.51 125.78,467.69 126.12,468.03 126.45,468.03 126.79,467.30 127.13,467.50 127.46,466.64 127.80,466.15 128.14,466.12 128.47,466.14 128.81,466.47 129.15,465.67 129.48,466.12 129.82,466.34 130.16,466.19 130.49,466.57 130.83,466.77 131.17,466.20 131.51,466.23 131.84,466.06 132.18,465.46 132.52,465.09 132.85,466.00 133.19,466.65 133.53,465.85 133.86,465.58 134.20,466.66 134.54,467.19 134.87,467.44 135.21,468.11 135.55,467.75 135.88,467.12 136.22,466.79 136.56,467.22 136.89,467.04 137.23,465.94 137.57,466.55 137.91,465.68 138.24,464.95 138.58,464.48 138.92,464.55 139.25,465.08 139.59,465.80 139.93,465.41 140.26,464.84 140.60,464.06 140.94,463.38 141.27,463.21 141.61,463.46 141.95,464.28 142.28,464.06 142.62,463.71 142.96,463.56 143.29,464.23 143.63,464.29 143.97,465.08 144.31,465.02 144.64,465.62 144.98,465.82 145.32,465.88 145.65,465.61 145.99,464.45 146.33,464.77 146.66,466.03 147.00,465.75 147.34,465.14 147.67,464.33 148.01,464.19 148.35,463.51 148.68,463.49 149.02,463.88 149.36,464.01 149.69,463.35 150.03,463.67 150.37,462.69 150.71,463.84 151.04,464.06 151.38,463.47 151.72,463.32 152.05,463.78 152.39,464.31 152.73,464.71 153.06,463.88 153.40,463.64 153.74,463.03 154.07,463.00 154.41,462.36 154.75,462.24 155.08,462.70 155.42,462.72 155.76,462.40 156.09,461.34 156.43,461.29 156.77,461.25 157.11,460.43 157.44,461.07 157.78,461.70 158.12,461.14 158.45,460.59 158.79,460.21 159.13,459.96 159.46,460.08 159.80,460.08 160.14,460.08 160.47,459.74 160.81,460.23 161.15,460.42 161.48,459.99 161.82,459.89 162.16,459.49 162.49,459.31 162.83,459.19 163.17,458.73 163.51,458.47 163.84,459.09 164.18,459.20 164.52,459.23 164.85,458.76 165.19,458.24 165.53,457.47 165.86,457.11 166.20,456.00 166.20,473.46 165.86,474.83 165.53,475.67 165.19,476.48 164.85,476.71 164.52,476.45 164.18,476.29 163.84,475.89 163.51,475.53 163.17,475.39 162.83,475.82 162.49,475.80 162.16,476.23 161.82,476.75 161.48,476.46 161.15,476.53 160.81,476.18 160.47,475.75 160.14,476.55 159.80,476.41 159.46,477.12 159.13,477.01 158.79,477.17 158.45,476.83 158.12,476.83 157.78,477.41 157.44,476.86 157.11,476.76 156.77,478.14 156.43,478.70 156.09,478.68 155.76,479.04 155.42,479.13 155.08,478.86 154.75,478.53 154.41,478.80 154.07,479.23 153.74,478.88 153.40,479.06 153.06,479.45 152.73,480.44 152.39,480.36 152.05,479.74 151.72,479.25 151.38,478.69 151.04,479.43 150.71,479.27 150.37,478.91 150.03,480.10 149.69,479.90 149.36,479.81 149.02,479.37 148.68,478.46 148.35,478.73 148.01,478.74 147.67,479.01 147.34,479.81 147.00,480.80 146.66,481.69 146.33,480.76 145.99,479.97 145.65,480.43 145.32,480.49 144.98,481.04 144.64,481.15 144.31,480.63 143.97,480.67 143.63,479.85 143.29,479.35 142.96,478.52 142.62,478.63 142.28,479.00 141.95,479.05 141.61,478.55 141.27,478.40 140.94,479.17 140.60,479.49 140.26,480.05 139.93,480.53 139.59,480.97 139.25,480.73 138.92,480.03 138.58,479.97 138.24,480.19 137.91,480.63 137.57,481.27 137.23,481.06 136.89,482.09 136.56,482.72 136.22,482.08 135.88,482.44 135.55,482.09 135.21,482.45 134.87,482.21 134.54,482.52 134.20,481.68 133.86,480.59 133.53,480.81 133.19,481.55 132.85,480.84 132.52,480.21 132.18,480.73 131.84,481.12 131.51,481.06 131.17,481.14 130.83,481.65 130.49,482.18 130.16,481.67 129.82,482.12 129.48,481.35 129.15,481.07 128.81,481.49 128.47,481.29 128.14,481.53 127.80,481.80 127.46,482.35 127.13,482.54 126.79,482.66 126.45,483.04 126.12,483.01 125.78,482.24 125.44,482.66 125.11,482.62 124.77,481.37 124.43,480.86 124.09,480.42 123.76,480.06 123.42,479.54 123.08,480.22 122.75,481.00 122.41,481.59 122.07,482.24 121.74,481.43 121.40,480.61 121.06,480.69 120.73,480.12 120.39,480.11 120.05,479.62 119.72,479.86 119.38,480.05 119.04,479.77 118.71,480.16 118.37,480.14 118.03,480.58 117.69,479.77 117.36,479.59 117.02,480.15 116.68,479.20 116.35,478.92 116.01,479.16 115.67,479.62 115.34,479.00 115.00,478.04 114.66,476.82 114.33,475.67 113.99,475.30 113.65,474.90 113.32,475.13 112.98,474.75 112.64,474.70 112.31,474.63 111.97,474.68 111.63,475.17 111.29,475.93 110.96,476.02 110.62,475.04 110.28,474.88 109.95,475.00 109.61,474.29 109.27,473.75 108.94,472.35 108.60,471.88 108.26,471.85 107.93,471.27 107.59,470.99 107.25,470.94 106.92,470.19 106.58,470.41 106.24,470.24 105.91,469.74 105.57,470.06 105.23,469.10 104.89,468.72 104.56,468.48 104.22,467.80 103.88,467.28 103.55,467.83 103.21,467.96 102.87,467.86 102.54,467.43 102.20,466.48 101.86,465.98 101.53,465.53 101.19,464.80 100.85,465.10 100.52,465.38 100.18,464.08 99.84,463.34 99.51,462.66 99.17,462.73 98.83,462.14 98.49,460.32 98.16,460.55 97.82,460.67 97.48,461.31 97.15,461.42 96.81,460.90 96.47,462.51 96.14,461.63 95.80,461.71 95.46,461.52 95.13,460.94 94.79,460.68 94.45,459.66 94.12,459.88 93.78,459.62 93.44,460.09 93.11,460.40 92.77,460.00 92.43,459.69 92.09,459.29 91.76,460.05 91.42,459.02 91.08,458.67 90.75,458.82 90.41,458.39 90.07,457.58 89.74,457.36 89.40,457.15 89.06,457.16 88.73,457.39 88.39,456.60 88.05,456.79 87.72,457.27 87.38,456.72 87.04,456.59 86.71,456.30 86.37,456.57 86.03,456.86 85.69,456.03 85.36,455.97 85.02,455.05 84.68,455.52 84.35,454.22 84.01,453.59 83.67,453.27 83.34,452.91 83.00,452.24 82.66,452.15 82.33,452.15 81.99,451.77 81.65,450.93 81.32,450.90 80.98,450.91 80.64,450.15 80.31,449.79 79.97,449.44 79.63,448.68 79.29,448.85 78.96,448.53 78.62,449.54 78.28,448.07 77.95,448.55 77.61,448.66 77.27,448.49 76.94,448.13 76.60,447.90 76.26,447.35 75.93,446.83 75.59,446.58 75.25,446.76 74.92,445.88 74.58,445.02 74.24,445.18 73.91,446.58 73.57,446.15 73.23,446.03 72.89,444.59 72.56,444.17 72.22,444.88 71.88,445.06 71.55,445.88 71.21,447.15 70.87,448.79 70.54,449.83 70.20,450.34 69.86,451.91 69.53,452.62 69.19,452.89 68.85,453.64 68.52,455.29 68.18,455.45 67.84,456.46 67.51,456.78 67.17,457.77 66.83,457.61 66.49,457.68 66.16,458.81 65.82,458.59 65.48,459.59 65.15,459.58 64.81,460.91 64.47,461.56 64.14,462.73 63.80,463.27 63.46,463.76 63.13,464.12 62.79,465.17 62.45,465.79 62.12,465.56 61.78,464.72 61.44,465.71 61.11,465.47 60.77,465.18 60.43,465.44 60.09,465.91 59.76,467.26 59.42,467.18 59.08,466.96 58.75,466.88 58.41,467.61 58.07,467.51 57.74,467.96 57.40,467.41 57.06,468.16 56.73,468.68 56.39,469.63 56.05,469.16 55.72,468.90 55.38,469.64 55.04,469.86 54.71,470.73 54.37,470.86 54.03,470.18 53.69,470.04 53.36,470.70 53.02,471.84 52.68,472.07 52.35,472.32 52.01,471.97 51.67,472.46 51.34,472.95 51.00,473.23 50.66,472.82 50.33,473.32 49.99,473.69 49.65,473.15 49.32,472.72 48.98,473.17 48.64,472.92 48.31,473.63 47.97,473.91 47.63,474.72 47.29,474.94 46.96,475.57 46.62,476.51 46.28,477.17 45.95,476.93 45.61,476.81 45.27,476.65 44.94,476.83 44.60,475.67 44.26,475.30 43.93,474.69 43.59,474.05 43.25,474.27 42.92,474.95 42.58,474.49 42.24,474.70 41.91,473.79 41.57,473.05 41.23,472.63 40.89,472.55 40.56,473.69 40.22,472.68 39.88,472.80 39.55,473.68 39.21,473.80 38.87,474.75 38.54,474.94 38.20,476.04 37.86,476.62 37.53,475.93 37.19,475.50 36.85,474.74 36.52,474.68 36.18,474.27 35.84,473.54 35.51,473.00 35.17,473.35 34.83,473.02 34.49,473.62 34.16,473.75 33.82,473.97 33.48,474.32 33.15,473.89 32.81,474.64 32.47,474.64 32.14,474.39 31.80,474.21" fill="#ff6e78" fill-opacity="0.4" stroke="none"/>
<polyline points="31.80,463.52 32.14,464.83 32.47,464.53 32.81,464.75 33.15,464.92 33.48,464.95 33.82,465.96 34.16,466.01 34.49,466.40 34.83,464.61 35.17,464.46 35.51,464.61 35.84,464.71 36.18,464.99 36.52,465.56 36.85,465.77 37.19,465.52 37.53,465.69 37.86,465.20 38.20,465.37 38.54,465.43 38.87,464.73 39.21,464.48 39.55,464.80 39.88,464.89 40.22,464.63 40.56,463.63 40.89,463.76 41.23,463.90 41.57,463.37 41.91,463.83 42.24,463.93 42.58,463.42 42.92,463.05 43.25,462.94 43.59,462.53 43.93,463.98 44.26,463.42 44.60,463.90 44.94,464.69 45.27,464.47 45.61,464.04 45.95,464.20 46.28,464.69 46.62,464.61 46.96,464.50 47.29,463.62 47.63,463.10 47.97,462.82 48.31,462.11 48.64,462.06 48.98,462.43 49.32,461.98 49.65,461.52 49.99,461.47 50.33,461.75 50.66,461.47 51.00,462.62 51.34,462.10 51.67,461.63 52.01,462.30 52.35,462.04 52.68,462.31 53.02,461.64 53.36,462.50 53.69,462.74 54.03,462.11 54.37,461.20 54.71,462.09 55.04,462.11 55.38,461.76 55.72,461.90 56.05,460.88 56.39,461.34 56.73,460.97 57.06,461.33 57.40,460.40 57.74,460.23 58.07,460.24 58.41,460.94 58.75,459.81 59.08,459.23 59.42,458.62 59.76,457.76 60.09,457.32 60.43,457.38 60.77,457.57 61.11,457.74 61.44,456.77 61.78,457.26 62.12,457.28 62.45,457.17 62.79,456.78 63.13,456.17 63.46,456.49 63.80,457.04 64.14,456.66 64.47,455.67 64.81,454.95 65.15,454.55 65.48,454.40 65.82,453.78 66.16,453.35 66.49,452.29 66.83,451.95 67.17,451.08 67.51,450.31 67.84,449.17 68.18,448.21 68.52,446.03 68.85,444.41 69.19,442.84 69.53,443.26 69.86,442.83 70.20,442.51 70.54,441.56 70.87,442.10 71.21,440.85 71.55,439.70 71.88,439.81 72.22,439.78 72.56,439.70 72.89,439.22 73.23,438.51 73.57,437.13 73.91,437.10 74.24,436.71 74.58,436.72 74.92,435.89 75.25,435.67 75.59,435.17 75.93,435.96 76.26,436.31 76.60,437.01 76.94,436.49 77.27,436.44 77.61,436.92 77.95,437.45 78.28,437.50 78.62,438.17 78.96,438.97 79.29,438.97 79.63,437.89 79.97,438.22 80.31,438.72 80.64,439.54 80.98,440.45 81.32,440.33 81.65,440.04 81.99,440.18 82.33,440.15 82.66,440.23 83.00,440.31 83.34,441.33 83.67,441.72 84.01,441.78 84.35,442.30 84.68,442.68 85.02,443.28 85.36,443.68 85.69,443.46 86.03,443.89 86.37,444.22 86.71,444.03 87.04,443.93 87.38,443.28 87.72,444.66 88.05,444.53 88.39,445.14 88.73,445.48 89.06,445.47 89.40,445.33 89.74,445.24 90.07,445.61 90.41,445.21 90.75,445.82 91.08,446.34 91.42,446.39 91.76,447.10 92.09,446.45 92.43,446.37 92.77,445.67 93.11,446.11 93.44,446.71 93.78,447.00 94.12,446.99 94.45,447.68 94.79,447.85 95.13,448.28 95.46,447.85 95.80,448.62 96.14,448.50 96.47,449.21 96.81,450.08 97.15,450.74 97.48,451.68 97.82,451.94 98.16,451.76 98.49,452.04 98.83,452.09 99.17,451.61 99.51,451.86 99.84,452.11 100.18,452.64 100.52,453.86 100.85,453.84 101.19,455.16 101.53,455.23 101.86,455.63 102.20,455.43 102.54,455.82 102.87,456.63 103.21,456.83 103.55,457.44 103.88,457.85 104.22,458.13 104.56,458.49 104.89,458.92 105.23,459.66 105.57,460.05 105.91,461.45 106.24,461.80 106.58,462.66 106.92,462.27 107.25,461.83 107.59,463.08 107.93,463.20 108.26,463.44 108.60,464.17 108.94,464.05 109.27,464.49 109.61,465.65 109.95,466.00 110.28,466.30 110.62,466.48 110.96,467.43 111.29,467.38 111.63,467.24 111.97,468.13 112.31,468.77 112.64,469.14 112.98,469.77 113.32,469.19 113.65,469.42 113.99,470.34 114.33,471.11 114.66,471.53 115.00,470.70 115.34,471.19 115.67,471.48 116.01,471.53 116.35,471.91 116.68,471.09 117.02,471.78 117.36,471.84 117.69,472.18 118.03,472.27 118.37,473.34 118.71,472.88 119.04,473.41 119.38,473.82 119.72,474.76 120.05,475.59 120.39,475.70 120.73,475.59 121.06,475.58 121.40,475.33 121.74,475.30 122.07,475.61 122.41,475.49 122.75,475.46 123.08,475.77 123.42,475.67 123.76,475.26 124.09,475.44 124.43,475.97 124.77,475.90 125.11,475.20 125.44,475.55 125.78,475.80 126.12,476.10 126.45,475.66 126.79,476.85 127.13,476.86 127.46,476.45 127.80,477.09 128.14,476.43 128.47,476.26 128.81,476.67 129.15,476.63 129.48,477.44 129.82,477.75 130.16,476.78 130.49,477.21 130.83,476.14 131.17,476.15 131.51,475.56 131.84,475.47 132.18,476.63 132.52,476.87 132.85,476.67 133.19,477.15 133.53,477.73 133.86,477.45 134.20,477.72 134.54,478.51 134.87,478.77 135.21,478.18 135.55,478.29 135.88,477.63 136.22,476.62 136.56,476.42 136.89,476.83 137.23,477.31 137.57,477.12 137.91,476.50 138.24,476.20 138.58,475.83 138.92,476.04 139.25,475.87 139.59,476.11 139.93,476.29 140.26,476.95 140.60,477.75 140.94,477.96 141.27,478.47 141.61,478.94 141.95,478.53 142.28,478.56 142.62,476.97 142.96,476.39 143.29,476.68 143.63,476.20 143.97,475.96 144.31,476.30 144.64,475.73 144.98,476.18 145.32,477.85 145.65,477.52 145.99,477.94 146.33,477.25 146.66,477.70 147.00,478.42 147.34,477.67 147.67,478.29 148.01,478.24 148.35,477.51 148.68,477.51 149.02,477.58 149.36,477.60 149.69,477.27 150.03,477.79 150.37,477.50 150.71,477.17 151.04,475.95 151.38,476.14 151.72,476.59 152.05,476.15 152.39,476.31 152.73,476.08 153.06,475.90 153.40,475.18 153.74,475.43 154.07,475.38 154.41,476.62 154.75,477.01 155.08,476.12 155.42,476.35 155.76,476.58 156.09,477.10 156.43,476.68 156.77,476.47 157.11,477.00 157.44,476.57 157.78,476.37 158.12,475.94 158.45,476.24 158.79,475.30 159.13,475.09 159.46,475.14 159.80,475.42 160.14,475.58 160.47,475.18 160.81,475.35 161.15,474.78 161.48,474.54 161.82,473.87 162.16,473.47 162.49,473.24 162.83,473.99 163.17,473.54 163.51,472.82 163.84,472.43 164.18,471.85 164.52,471.81 164.85,471.71 165.19,471.91 165.53,470.88 165.86,470.46 166.20,470.36" fill="none" stroke="#7050d8" stroke-width="1.0" stroke-opacity="0.7" stroke-linejoin="round"/>
<polyline points="31.80,466.56 32.14,466.54 32.47,466.82 32.81,466.89 33.15,466.35 33.48,466.82 33.82,466.39 34.16,466.10 34.49,466.08 34.83,465.44 35.17,465.98 35.51,465.65 35.84,466.36 36.18,466.97 36.52,467.70 36.85,467.67 37.19,468.37 37.53,468.50 37.86,469.26 38.20,468.80 38.54,467.92 38.87,467.86 39.21,467.05 39.55,466.84 39.88,465.73 40.22,465.70 40.56,466.56 40.89,465.79 41.23,465.87 41.57,466.46 41.91,466.82 42.24,467.72 42.58,467.82 42.92,468.40 43.25,467.64 43.59,467.28 43.93,468.15 44.26,468.86 44.60,469.07 44.94,470.00 45.27,469.94 45.61,469.80 45.95,470.03 46.28,470.13 46.62,469.70 46.96,468.75 47.29,467.74 47.63,467.47 47.97,466.73 48.31,466.85 48.64,466.37 48.98,466.62 49.32,466.03 49.65,466.48 49.99,466.76 50.33,466.49 50.66,465.93 51.00,466.44 51.34,466.43 51.67,466.06 52.01,465.62 52.35,465.70 52.68,465.32 53.02,465.12 53.36,464.07 53.69,463.44 54.03,463.83 54.37,464.69 54.71,464.36 55.04,463.43 55.38,463.05 55.72,462.30 56.05,462.28 56.39,462.72 56.73,462.05 57.06,461.69 57.40,461.00 57.74,461.40 58.07,460.92 58.41,460.87 58.75,460.12 59.08,460.11 59.42,460.09 59.76,460.07 60.09,459.06 60.43,458.72 60.77,458.83 61.11,459.09 61.44,459.35 61.78,458.30 62.12,458.98 62.45,459.16 62.79,458.54 63.13,457.57 63.46,457.32 63.80,456.56 64.14,455.83 64.47,454.92 64.81,454.53 65.15,453.30 65.48,452.81 65.82,451.58 66.16,451.65 66.49,450.59 66.83,450.65 67.17,450.81 67.51,449.86 67.84,449.58 68.18,448.56 68.52,448.33 68.85,446.61 69.19,445.67 69.53,445.29 69.86,444.21 70.20,442.78 70.54,442.29 70.87,441.11 71.21,439.18 71.55,437.97 71.88,437.27 72.22,436.95 72.56,436.09 72.89,436.46 73.23,437.70 73.57,437.81 73.91,438.31 74.24,437.41 74.58,437.34 74.92,437.97 75.25,438.73 75.59,438.62 75.93,439.21 76.26,439.71 76.60,439.99 76.94,440.19 77.27,440.45 77.61,440.80 77.95,440.53 78.28,440.09 78.62,441.40 78.96,440.50 79.29,440.91 79.63,440.76 79.97,441.64 80.31,441.95 80.64,442.30 80.98,442.74 81.32,442.76 81.65,442.89 81.99,443.85 82.33,444.33 82.66,444.34 83.00,444.39 83.34,444.92 83.67,445.40 84.01,445.83 84.35,446.79 84.68,447.83 85.02,447.38 85.36,447.98 85.69,448.31 86.03,449.07 86.37,448.76 86.71,448.20 87.04,448.67 87.38,448.73 87.72,449.45 88.05,448.88 88.39,448.75 88.73,449.56 89.06,449.26 89.40,449.42 89.74,449.56 90.07,449.73 90.41,450.46 90.75,451.06 91.08,450.99 91.42,451.26 91.76,451.98 92.09,451.15 92.43,451.41 92.77,451.90 93.11,452.46 93.44,452.26 93.78,451.93 94.12,451.98 94.45,451.71 94.79,452.64 95.13,452.97 95.46,453.36 95.80,453.48 96.14,453.35 96.47,454.48 96.81,452.92 97.15,453.50 97.48,453.45 97.82,453.15 98.16,452.82 98.49,452.80 98.83,454.44 99.17,455.16 99.51,454.94 99.84,455.66 100.18,456.46 100.52,457.93 100.85,457.58 101.19,457.53 101.53,458.22 101.86,458.53 102.20,458.80 102.54,459.60 102.87,459.97 103.21,460.10 103.55,460.11 103.88,459.74 104.22,460.04 104.56,460.63 104.89,460.79 105.23,461.43 105.57,462.37 105.91,462.04 106.24,462.53 106.58,462.76 106.92,462.72 107.25,463.60 107.59,463.58 107.93,463.65 108.26,463.99 108.60,464.08 108.94,464.77 109.27,466.22 109.61,466.69 109.95,467.51 110.28,467.37 110.62,467.53 110.96,468.08 111.29,468.26 111.63,467.77 111.97,467.41 112.31,467.46 112.64,467.45 112.98,467.77 113.32,468.04 113.65,467.98 113.99,468.26 114.33,468.36 114.66,469.18 115.00,470.30 115.34,471.45 115.67,471.93 116.01,471.46 116.35,471.02 116.68,471.72 117.02,472.69 117.36,472.45 117.69,472.36 118.03,473.19 118.37,472.75 118.71,472.79 119.04,472.27 119.38,472.32 119.72,472.07 120.05,472.11 120.39,472.77 120.73,473.01 121.06,473.45 121.40,473.10 121.74,473.70 122.07,474.53 122.41,474.20 122.75,473.62 123.08,472.87 123.42,472.30 123.76,473.12 124.09,473.50 124.43,473.80 124.77,473.83 125.11,475.02 125.44,475.09 125.78,474.96 126.12,475.52 126.45,475.54 126.79,474.98 127.13,475.02 127.46,474.50 127.80,473.97 128.14,473.82 128.47,473.71 128.81,473.98 129.15,473.37 129.48,473.74 129.82,474.23 130.16,473.93 130.49,474.38 130.83,474.21 131.17,473.67 131.51,473.65 131.84,473.59 132.18,473.10 132.52,472.65 132.85,473.42 133.19,474.10 133.53,473.33 133.86,473.09 134.20,474.17 134.54,474.86 134.87,474.82 135.21,475.28 135.55,474.92 135.88,474.78 136.22,474.44 136.56,474.97 136.89,474.56 137.23,473.50 137.57,473.91 137.91,473.15 138.24,472.57 138.58,472.23 138.92,472.29 139.25,472.90 139.59,473.39 139.93,472.97 140.26,472.45 140.60,471.77 140.94,471.27 141.27,470.80 141.61,471.01 141.95,471.66 142.28,471.53 142.62,471.17 142.96,471.04 143.29,471.79 143.63,472.07 143.97,472.88 144.31,472.82 144.64,473.39 144.98,473.43 145.32,473.18 145.65,473.02 145.99,472.21 146.33,472.77 146.66,473.86 147.00,473.28 147.34,472.47 147.67,471.67 148.01,471.46 148.35,471.12 148.68,470.97 149.02,471.63 149.36,471.91 149.69,471.63 150.03,471.88 150.37,470.80 150.71,471.56 151.04,471.75 151.38,471.08 151.72,471.29 152.05,471.76 152.39,472.34 152.73,472.57 153.06,471.67 153.40,471.35 153.74,470.95 154.07,471.12 154.41,470.58 154.75,470.39 155.08,470.78 155.42,470.93 155.76,470.72 156.09,470.01 156.43,470.00 156.77,469.70 157.11,468.60 157.44,468.97 157.78,469.56 158.12,468.99 158.45,468.71 158.79,468.69 159.13,468.48 159.46,468.60 159.80,468.25 160.14,468.32 160.47,467.74 160.81,468.21 161.15,468.47 161.48,468.23 161.82,468.32 162.16,467.86 162.49,467.55 162.83,467.50 163.17,467.06 163.51,467.00 163.84,467.49 164.18,467.75 164.52,467.84 164.85,467.74 165.19,467.36 165.53,466.57 165.86,465.97 166.20,464.73" fill="none" stroke="#f04070" stroke-width="1.0" stroke-opacity="0.65" stroke-linejoin="round"/>
<line x1="65.5" y1="400" x2="65.5" y2="510.5" stroke="#d6e8c6" stroke-width="1"/>
<circle cx="65.5" cy="400" r="1.6" fill="white" stroke="#d6e8c6" stroke-width="0.8"/>
<circle cx="65.5" cy="510.5" r="1.6" fill="white" stroke="#d6e8c6" stroke-width="0.8"/>
<text x="0" y="0" font-size="7.1" text-anchor="middle" fill="#222" font-weight="normal" stroke="#222" stroke-width="0.12" transform="translate(14.84 457.30) rotate(-90) scale(1.0 1.0)">RR interval (s)</text>
<line x1="68.5" y1="416.2" x2="95.0" y2="416.2" stroke="#222" stroke-width="1.1"/>
<polygon points="67,416.2 69.8,414.8 69.8,417.59999999999997" fill="#222"/>
<polygon points="96.5,416.2 93.7,414.8 93.7,417.59999999999997" fill="#222"/>
<text x="85.25" y="413.53" font-size="7.2" text-anchor="middle" fill="#333" font-weight="normal" stroke="#333" stroke-width="0.12">Stimulation</text>
<text x="0" y="0" font-size="7" text-anchor="middle" fill="#333" font-weight="normal" stroke="#333" stroke-width="0.2" transform="translate(105.50 528.60) scale(1.0 1.08)">Time (s)</text>
<text x="87.80" y="543.88" font-size="11" text-anchor="middle" fill="#111" font-weight="bold" stroke="#111" stroke-width="0.4">(e)</text>
<text x="0" y="0" font-size="7" text-anchor="end" fill="#555" font-weight="normal" stroke="#555" stroke-width="0.12" transform="translate(218.30 417.90) scale(1.0 1.08)">0.06-</text>
<text x="0" y="0" font-size="7" text-anchor="end" fill="#555" font-weight="normal" stroke="#555" stroke-width="0.12" transform="translate(218.30 448.20) scale(1.0 1.08)">0.04-</text>
<text x="0" y="0" font-size="7" text-anchor="end" fill="#555" font-weight="normal" stroke="#555" stroke-width="0.12" transform="translate(218.30 479.60) scale(1.0 1.08)">0.02-</text>
<text x="0" y="0" font-size="7" text-anchor="end" fill="#555" font-weight="normal" stroke="#555" stroke-width="0.12" transform="translate(218.30 510.30) scale(1.0 1.08)">0.00-</text>
<rect x="221.3" y="436" width="18.799999999999983" height="74.5" fill="url(#hb)"/>
<rect x="244.9" y="447.7" width="18.799999999999983" height="62.80000000000001" fill="url(#hr)"/>
<line x1="230.7" y1="428.3" x2="230.7" y2="444.3" stroke="#b0b0b0" stroke-width="1" stroke-opacity="0.8"/>
<line x1="254.3" y1="439.7" x2="254.3" y2="455" stroke="#b0b0b0" stroke-width="1" stroke-opacity="0.8"/>
<text x="0" y="0" font-size="8" text-anchor="middle" fill="#222" font-weight="normal" stroke="#222" stroke-width="0.12" transform="translate(256.00 390.77) scale(1.0 1.08)">RR interval variation</text>
<text x="0" y="0" font-size="8.15" text-anchor="middle" fill="#222" font-weight="normal" stroke="#222" stroke-width="0.12" transform="translate(198.80 460.50) rotate(-90) scale(1.0 1.0)">RR interval (s)</text>
<text x="243.30" y="543.88" font-size="11" text-anchor="middle" fill="#111" font-weight="bold" stroke="#111" stroke-width="0.4">(f)</text>
<rect x="315.3" y="433" width="6.4" height="6.1" fill="url(#hb)" fill-opacity="0.75"/>
<rect x="315.3" y="447" width="6.4" height="6" fill="url(#hr)" fill-opacity="0.75"/>
<text x="0" y="0" font-size="8" text-anchor="start" fill="#222" font-weight="normal" stroke="#222" stroke-width="0.12" transform="translate(324.00 439.17) scale(1.0 1.08)">Hand</text>
<text x="0" y="0" font-size="8" text-anchor="start" fill="#222" font-weight="normal" stroke="#222" stroke-width="0.12" transform="translate(325.20 453.37) scale(1.0 1.08)">Arm</text>
</svg>
</body></html>
